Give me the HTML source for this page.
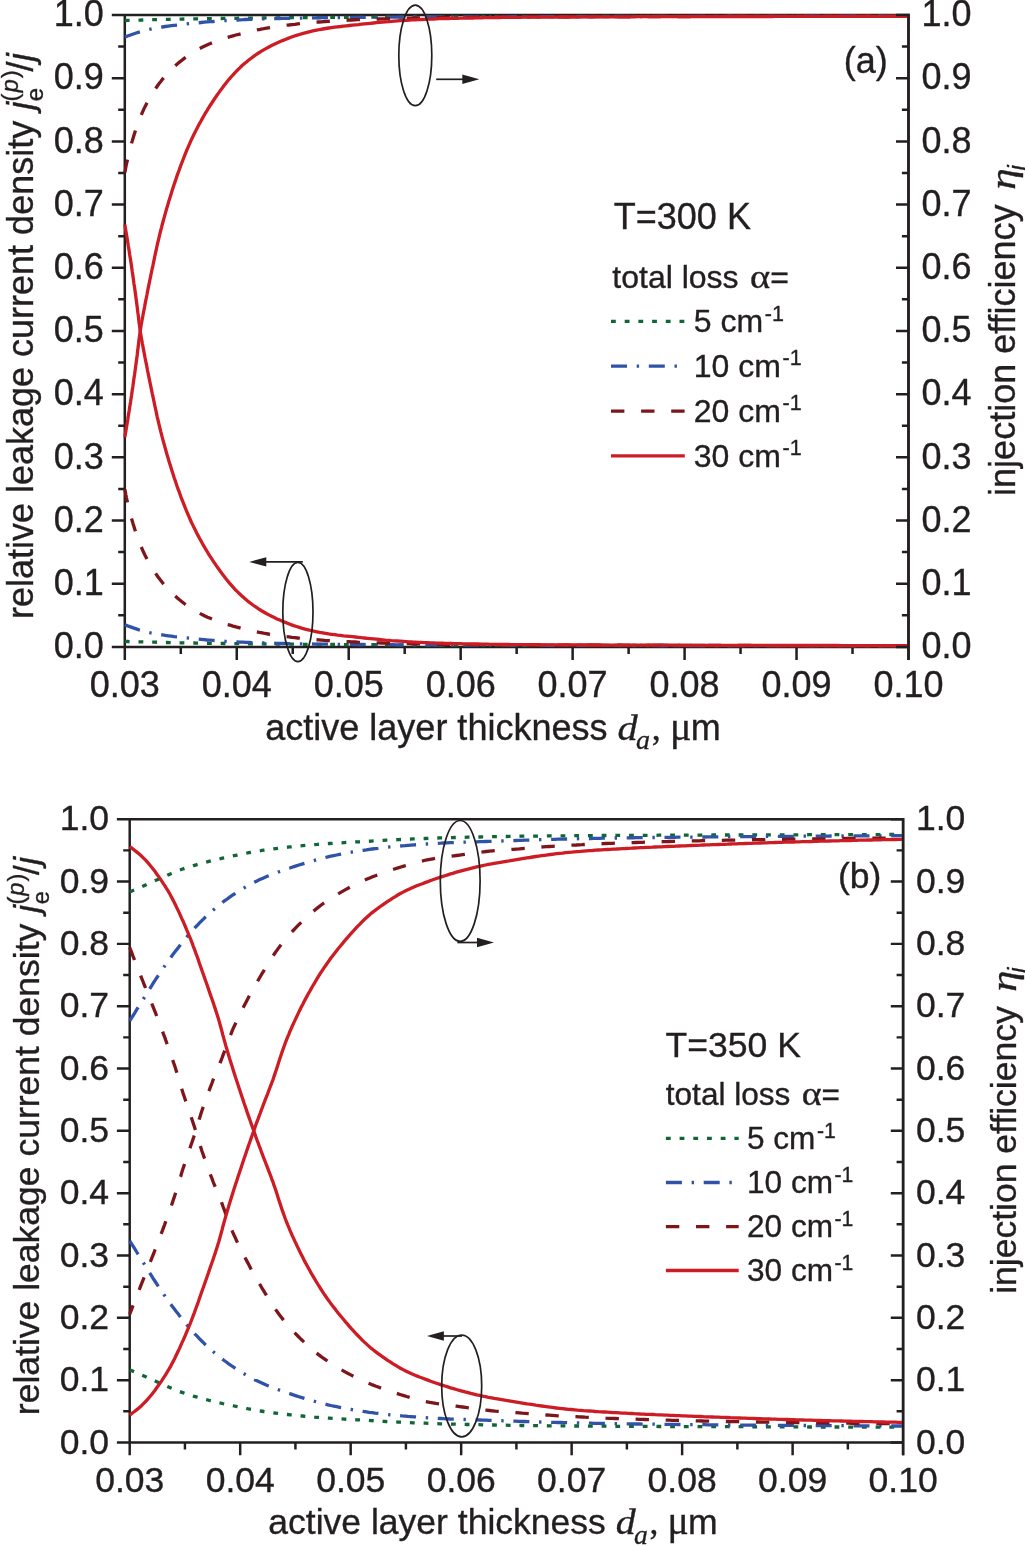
<!DOCTYPE html>
<html><head><meta charset="utf-8"><title>Leakage current and injection efficiency</title>
<style>
html,body{margin:0;padding:0;background:#fff;}
svg{display:block}
text{font-family:"Liberation Sans",sans-serif;fill:#231f20;stroke:#231f20;stroke-width:0.35px;}
.ser{font-family:"Liberation Serif",serif;}
.it{font-style:italic}
</style></head><body>
<svg width="1025" height="1546" viewBox="0 0 1025 1546">
<rect width="1025" height="1546" fill="#fff"/>
<g stroke="#231f20" stroke-width="2.50" fill="none">
<path d="M111.8,15.0 H909.8 M124.8,15.0 V659.9 M111.8,646.9 H908.5 M908.5,15.0 V659.9"/>
<path d="M118.2,615.30 H124.8 M901.9,615.30 H908.5 M111.8,583.71 H124.8 M896.0,583.71 H908.5 M118.2,552.12 H124.8 M901.9,552.12 H908.5 M111.8,520.52 H124.8 M896.0,520.52 H908.5 M118.2,488.92 H124.8 M901.9,488.92 H908.5 M111.8,457.33 H124.8 M896.0,457.33 H908.5 M118.2,425.73 H124.8 M901.9,425.73 H908.5 M111.8,394.14 H124.8 M896.0,394.14 H908.5 M118.2,362.55 H124.8 M901.9,362.55 H908.5 M111.8,330.95 H124.8 M896.0,330.95 H908.5 M118.2,299.36 H124.8 M901.9,299.36 H908.5 M111.8,267.76 H124.8 M896.0,267.76 H908.5 M118.2,236.17 H124.8 M901.9,236.17 H908.5 M111.8,204.57 H124.8 M896.0,204.57 H908.5 M118.2,172.97 H124.8 M901.9,172.97 H908.5 M111.8,141.38 H124.8 M896.0,141.38 H908.5 M118.2,109.78 H124.8 M901.9,109.78 H908.5 M111.8,78.19 H124.8 M896.0,78.19 H908.5 M118.2,46.59 H124.8 M901.9,46.59 H908.5 M180.78,646.9 V653.9 M236.76,646.9 V659.9 M292.74,646.9 V653.9 M348.71,646.9 V659.9 M404.69,646.9 V653.9 M460.67,646.9 V659.9 M516.65,646.9 V653.9 M572.63,646.9 V659.9 M628.61,646.9 V653.9 M684.59,646.9 V659.9 M740.56,646.9 V653.9 M796.54,646.9 V659.9 M852.52,646.9 V653.9 "/>
</g>
<path d="M124.8,641.4 L127.8,641.5 L130.8,641.6 L133.8,641.7 L136.8,641.8 L139.8,641.8 L142.8,641.9 L145.8,642.0 L148.8,642.1 L151.8,642.2 L154.8,642.2 L157.8,642.3 L160.8,642.4 L163.8,642.5 L166.8,642.5 L169.8,642.6 L172.8,642.7 L175.8,642.7 L178.8,642.8 L181.8,642.8 L184.8,642.9 L187.8,642.9 L190.8,643.0 L193.8,643.0 L196.8,643.1 L199.8,643.1 L202.8,643.2 L205.8,643.2 L208.8,643.3 L211.8,643.3 L214.8,643.4 L217.8,643.4 L220.8,643.4 L223.8,643.5 L226.8,643.5 L229.8,643.6 L232.8,643.6 L235.8,643.6 L238.8,643.7 L241.8,643.7 L244.8,643.7 L247.8,643.8 L250.8,643.8 L253.8,643.8 L256.8,643.9 L259.8,643.9 L262.8,643.9 L265.8,644.0 L268.8,644.0 L271.8,644.0 L274.8,644.0 L277.8,644.1 L280.8,644.1 L283.8,644.1 L286.8,644.2 L289.8,644.2 L292.8,644.2 L295.8,644.2 L298.8,644.3 L301.8,644.3 L304.8,644.3 L307.8,644.3 L310.8,644.3 L313.8,644.4 L316.8,644.4 L319.8,644.4 L322.8,644.4 L325.8,644.5 L328.8,644.5 L331.8,644.5 L334.8,644.5 L337.8,644.5 L340.8,644.5 L343.8,644.6 L346.8,644.6 L349.8,644.6 L352.8,644.6 L355.8,644.6 L358.8,644.6 L361.8,644.7 L364.8,644.7 L367.8,644.7 L370.8,644.7 L373.8,644.7 L376.8,644.7 L379.8,644.8 L382.8,644.8 L385.8,644.8 L388.8,644.8 L391.8,644.8 L394.8,644.8 L397.8,644.8 L400.8,644.9 L403.8,644.9 L406.8,644.9 L409.8,644.9 L412.8,644.9 L415.8,644.9 L418.8,644.9 L421.8,644.9 L424.8,645.0 L427.8,645.0 L430.8,645.0 L433.8,645.0 L436.8,645.0 L439.8,645.0 L442.8,645.0 L445.8,645.0 L448.8,645.0 L451.8,645.1 L454.8,645.1 L457.8,645.1 L460.8,645.1 L463.8,645.1 L466.8,645.1 L469.8,645.1 L472.8,645.1 L475.8,645.1 L478.8,645.1 L481.8,645.2 L484.8,645.2 L487.8,645.2 L490.8,645.2 L493.8,645.2 L496.8,645.2 L499.8,645.2 L502.8,645.2 L505.8,645.2 L508.8,645.2 L511.8,645.2 L514.8,645.2 L517.8,645.2 L520.8,645.2 L523.8,645.3 L526.8,645.3 L529.8,645.3 L532.8,645.3 L535.8,645.3 L538.8,645.3 L541.8,645.3 L544.8,645.3 L547.8,645.3 L550.8,645.3 L553.8,645.3 L556.8,645.3 L559.8,645.3 L562.8,645.3 L565.8,645.3 L568.8,645.4 L571.8,645.4 L574.8,645.4 L577.8,645.4 L580.8,645.4 L583.8,645.4 L586.8,645.4 L589.8,645.4 L592.8,645.4 L595.8,645.4 L598.8,645.4 L601.8,645.4 L604.8,645.4 L607.8,645.4 L610.8,645.4 L613.8,645.5 L616.8,645.5 L619.8,645.5 L622.8,645.5 L625.8,645.5 L628.8,645.5 L631.8,645.5 L634.8,645.5 L637.8,645.5 L640.8,645.5 L643.8,645.5 L646.8,645.5 L649.8,645.5 L652.8,645.5 L655.8,645.5 L658.8,645.5 L661.8,645.5 L664.8,645.5 L667.8,645.6 L670.8,645.6 L673.8,645.6 L676.8,645.6 L679.8,645.6 L682.8,645.6 L685.8,645.6 L688.8,645.6 L691.8,645.6 L694.8,645.6 L697.8,645.6 L700.8,645.6 L703.8,645.6 L706.8,645.6 L709.8,645.6 L712.8,645.6 L715.8,645.6 L718.8,645.6 L721.8,645.6 L724.8,645.7 L727.8,645.7 L730.8,645.7 L733.8,645.7 L736.8,645.7 L739.8,645.7 L742.8,645.7 L745.8,645.7 L748.8,645.7 L751.8,645.7 L754.8,645.7 L757.8,645.7 L760.8,645.7 L763.8,645.7 L766.8,645.7 L769.8,645.7 L772.8,645.7 L775.8,645.7 L778.8,645.7 L781.8,645.7 L784.8,645.7 L787.8,645.7 L790.8,645.7 L793.8,645.7 L796.8,645.7 L799.8,645.7 L802.8,645.7 L805.8,645.7 L808.8,645.8 L811.8,645.8 L814.8,645.8 L817.8,645.8 L820.8,645.8 L823.8,645.8 L826.8,645.8 L829.8,645.8 L832.8,645.8 L835.8,645.8 L838.8,645.8 L841.8,645.8 L844.8,645.8 L847.8,645.8 L850.8,645.8 L853.8,645.8 L856.8,645.8 L859.8,645.8 L862.8,645.8 L865.8,645.8 L868.8,645.8 L871.8,645.8 L874.8,645.8 L877.8,645.8 L880.8,645.8 L883.8,645.8 L886.8,645.8 L889.8,645.8 L892.8,645.8 L895.8,645.8 L898.7,645.8 L901.7,645.8 L904.6,645.8 L907.5,645.8 L908.5,645.8" fill="none" stroke="#0f6636" stroke-width="3.3" stroke-dasharray="4.8 8.9"/>
<path d="M124.8,20.5 L127.8,20.4 L130.8,20.3 L133.8,20.2 L136.8,20.1 L139.8,20.1 L142.8,20.0 L145.8,19.9 L148.8,19.8 L151.8,19.7 L154.8,19.7 L157.8,19.6 L160.8,19.5 L163.8,19.4 L166.8,19.4 L169.8,19.3 L172.8,19.2 L175.8,19.2 L178.8,19.1 L181.8,19.1 L184.8,19.0 L187.8,19.0 L190.8,18.9 L193.8,18.9 L196.8,18.8 L199.8,18.8 L202.8,18.7 L205.8,18.7 L208.8,18.6 L211.8,18.6 L214.8,18.5 L217.8,18.5 L220.8,18.5 L223.8,18.4 L226.8,18.4 L229.8,18.3 L232.8,18.3 L235.8,18.3 L238.8,18.2 L241.8,18.2 L244.8,18.2 L247.8,18.1 L250.8,18.1 L253.8,18.1 L256.8,18.0 L259.8,18.0 L262.8,18.0 L265.8,17.9 L268.8,17.9 L271.8,17.9 L274.8,17.9 L277.8,17.8 L280.8,17.8 L283.8,17.8 L286.8,17.7 L289.8,17.7 L292.8,17.7 L295.8,17.7 L298.8,17.6 L301.8,17.6 L304.8,17.6 L307.8,17.6 L310.8,17.6 L313.8,17.5 L316.8,17.5 L319.8,17.5 L322.8,17.5 L325.8,17.4 L328.8,17.4 L331.8,17.4 L334.8,17.4 L337.8,17.4 L340.8,17.4 L343.8,17.3 L346.8,17.3 L349.8,17.3 L352.8,17.3 L355.8,17.3 L358.8,17.3 L361.8,17.2 L364.8,17.2 L367.8,17.2 L370.8,17.2 L373.8,17.2 L376.8,17.2 L379.8,17.1 L382.8,17.1 L385.8,17.1 L388.8,17.1 L391.8,17.1 L394.8,17.1 L397.8,17.1 L400.8,17.0 L403.8,17.0 L406.8,17.0 L409.8,17.0 L412.8,17.0 L415.8,17.0 L418.8,17.0 L421.8,17.0 L424.8,16.9 L427.8,16.9 L430.8,16.9 L433.8,16.9 L436.8,16.9 L439.8,16.9 L442.8,16.9 L445.8,16.9 L448.8,16.9 L451.8,16.8 L454.8,16.8 L457.8,16.8 L460.8,16.8 L463.8,16.8 L466.8,16.8 L469.8,16.8 L472.8,16.8 L475.8,16.8 L478.8,16.8 L481.8,16.7 L484.8,16.7 L487.8,16.7 L490.8,16.7 L493.8,16.7 L496.8,16.7 L499.8,16.7 L502.8,16.7 L505.8,16.7 L508.8,16.7 L511.8,16.7 L514.8,16.7 L517.8,16.7 L520.8,16.7 L523.8,16.6 L526.8,16.6 L529.8,16.6 L532.8,16.6 L535.8,16.6 L538.8,16.6 L541.8,16.6 L544.8,16.6 L547.8,16.6 L550.8,16.6 L553.8,16.6 L556.8,16.6 L559.8,16.6 L562.8,16.6 L565.8,16.6 L568.8,16.5 L571.8,16.5 L574.8,16.5 L577.8,16.5 L580.8,16.5 L583.8,16.5 L586.8,16.5 L589.8,16.5 L592.8,16.5 L595.8,16.5 L598.8,16.5 L601.8,16.5 L604.8,16.5 L607.8,16.5 L610.8,16.5 L613.8,16.4 L616.8,16.4 L619.8,16.4 L622.8,16.4 L625.8,16.4 L628.8,16.4 L631.8,16.4 L634.8,16.4 L637.8,16.4 L640.8,16.4 L643.8,16.4 L646.8,16.4 L649.8,16.4 L652.8,16.4 L655.8,16.4 L658.8,16.4 L661.8,16.4 L664.8,16.4 L667.8,16.3 L670.8,16.3 L673.8,16.3 L676.8,16.3 L679.8,16.3 L682.8,16.3 L685.8,16.3 L688.8,16.3 L691.8,16.3 L694.8,16.3 L697.8,16.3 L700.8,16.3 L703.8,16.3 L706.8,16.3 L709.8,16.3 L712.8,16.3 L715.8,16.3 L718.8,16.3 L721.8,16.3 L724.8,16.2 L727.8,16.2 L730.8,16.2 L733.8,16.2 L736.8,16.2 L739.8,16.2 L742.8,16.2 L745.8,16.2 L748.8,16.2 L751.8,16.2 L754.8,16.2 L757.8,16.2 L760.8,16.2 L763.8,16.2 L766.8,16.2 L769.8,16.2 L772.8,16.2 L775.8,16.2 L778.8,16.2 L781.8,16.2 L784.8,16.2 L787.8,16.2 L790.8,16.2 L793.8,16.2 L796.8,16.2 L799.8,16.2 L802.8,16.2 L805.8,16.2 L808.8,16.1 L811.8,16.1 L814.8,16.1 L817.8,16.1 L820.8,16.1 L823.8,16.1 L826.8,16.1 L829.8,16.1 L832.8,16.1 L835.8,16.1 L838.8,16.1 L841.8,16.1 L844.8,16.1 L847.8,16.1 L850.8,16.1 L853.8,16.1 L856.8,16.1 L859.8,16.1 L862.8,16.1 L865.8,16.1 L868.8,16.1 L871.8,16.1 L874.8,16.1 L877.8,16.1 L880.8,16.1 L883.8,16.1 L886.8,16.1 L889.8,16.1 L892.8,16.1 L895.8,16.1 L898.7,16.1 L901.7,16.1 L904.6,16.1 L907.5,16.1 L908.5,16.1" fill="none" stroke="#0f6636" stroke-width="3.3" stroke-dasharray="4.8 8.9"/>
<path d="M124.8,624.8 L127.6,625.9 L130.5,626.9 L133.3,627.9 L136.2,628.9 L139.0,629.8 L141.9,630.6 L144.8,631.4 L147.7,632.1 L150.6,632.8 L153.5,633.4 L156.4,633.9 L159.4,634.5 L162.3,634.9 L165.3,635.4 L168.3,635.8 L171.3,636.2 L174.2,636.6 L177.2,636.9 L180.2,637.3 L183.2,637.6 L186.2,637.9 L189.2,638.2 L192.2,638.6 L195.1,638.9 L198.1,639.1 L201.1,639.4 L204.1,639.7 L207.1,640.0 L210.1,640.2 L213.1,640.4 L216.1,640.7 L219.1,640.9 L222.1,641.1 L225.0,641.3 L228.0,641.5 L231.0,641.6 L234.0,641.8 L237.0,641.9 L240.0,642.1 L243.0,642.2 L246.0,642.4 L249.0,642.5 L252.0,642.6 L255.0,642.7 L258.0,642.8 L261.0,642.9 L264.0,643.0 L267.0,643.1 L270.0,643.2 L273.0,643.2 L276.0,643.3 L279.0,643.4 L282.0,643.5 L285.0,643.5 L288.0,643.6 L291.0,643.7 L294.0,643.7 L297.0,643.8 L300.0,643.8 L303.0,643.9 L306.0,643.9 L309.0,644.0 L312.0,644.0 L315.0,644.1 L318.0,644.1 L321.0,644.2 L324.0,644.2 L327.0,644.2 L330.0,644.2 L333.0,644.3 L336.0,644.3 L339.0,644.3 L342.0,644.4 L345.0,644.4 L348.0,644.4 L351.0,644.4 L354.0,644.5 L357.0,644.5 L360.0,644.5 L363.0,644.5 L366.0,644.6 L369.0,644.6 L372.0,644.6 L375.0,644.6 L378.0,644.7 L381.0,644.7 L384.0,644.7 L387.0,644.7 L390.0,644.7 L393.0,644.7 L396.0,644.8 L399.0,644.8 L402.0,644.8 L405.0,644.8 L408.0,644.8 L411.0,644.8 L414.0,644.9 L417.0,644.9 L420.0,644.9 L423.0,644.9 L426.0,644.9 L429.0,644.9 L432.0,644.9 L435.0,645.0 L438.0,645.0 L441.0,645.0 L444.0,645.0 L447.0,645.0 L450.0,645.0 L453.0,645.0 L456.0,645.0 L459.0,645.0 L462.0,645.0 L465.0,645.0 L468.0,645.0 L471.0,645.1 L474.0,645.1 L477.0,645.1 L480.0,645.1 L483.0,645.1 L486.0,645.1 L489.0,645.1 L492.0,645.1 L495.0,645.1 L498.0,645.1 L501.0,645.1 L504.0,645.1 L507.0,645.2 L510.0,645.2 L513.0,645.2 L516.0,645.2 L519.0,645.2 L522.0,645.2 L525.0,645.2 L528.0,645.2 L531.0,645.2 L534.0,645.2 L537.0,645.2 L540.0,645.2 L543.0,645.2 L546.0,645.2 L549.0,645.3 L552.0,645.3 L555.0,645.3 L558.0,645.3 L561.0,645.3 L564.0,645.3 L567.0,645.3 L570.0,645.3 L573.0,645.3 L576.0,645.3 L579.0,645.3 L582.0,645.3 L585.0,645.3 L588.0,645.3 L591.0,645.3 L594.0,645.4 L597.0,645.4 L600.0,645.4 L603.0,645.4 L606.0,645.4 L609.0,645.4 L612.0,645.4 L615.0,645.4 L618.0,645.4 L621.0,645.4 L624.0,645.4 L627.0,645.4 L630.0,645.4 L633.0,645.4 L636.0,645.4 L639.0,645.4 L642.0,645.4 L645.0,645.5 L648.0,645.5 L651.0,645.5 L654.0,645.5 L657.0,645.5 L660.0,645.5 L663.0,645.5 L666.0,645.5 L669.0,645.5 L672.0,645.5 L675.0,645.5 L678.0,645.5 L681.0,645.5 L684.0,645.5 L687.0,645.5 L690.0,645.5 L693.0,645.5 L696.0,645.5 L699.0,645.5 L702.0,645.5 L705.0,645.5 L708.0,645.6 L711.0,645.6 L714.0,645.6 L717.0,645.6 L720.0,645.6 L723.0,645.6 L726.0,645.6 L729.0,645.6 L732.0,645.6 L735.0,645.6 L738.0,645.6 L741.0,645.6 L744.0,645.6 L747.0,645.6 L750.0,645.6 L753.0,645.6 L756.0,645.6 L759.0,645.6 L762.0,645.6 L765.0,645.6 L768.0,645.6 L771.0,645.6 L774.0,645.6 L777.0,645.6 L780.0,645.6 L783.0,645.6 L786.0,645.6 L789.0,645.6 L792.0,645.6 L795.0,645.7 L798.0,645.7 L801.0,645.7 L804.0,645.7 L807.0,645.7 L810.0,645.7 L813.0,645.7 L816.0,645.7 L819.0,645.7 L822.0,645.7 L825.0,645.7 L828.0,645.7 L831.0,645.7 L834.0,645.7 L837.0,645.7 L840.0,645.7 L843.0,645.7 L846.0,645.7 L849.0,645.7 L852.0,645.7 L855.0,645.7 L858.0,645.7 L861.0,645.7 L864.0,645.7 L867.0,645.7 L870.0,645.7 L873.0,645.7 L876.0,645.7 L879.0,645.7 L882.0,645.7 L885.0,645.7 L888.0,645.7 L891.0,645.7 L894.0,645.7 L896.9,645.7 L899.9,645.7 L902.8,645.7 L905.7,645.7 L908.5,645.7" fill="none" stroke="#3053a8" stroke-width="3.3" stroke-dasharray="16 9.7 2.4 9.7"/>
<path d="M124.8,37.1 L127.6,36.0 L130.5,35.0 L133.3,34.0 L136.2,33.0 L139.0,32.1 L141.9,31.3 L144.8,30.5 L147.7,29.8 L150.6,29.1 L153.5,28.5 L156.4,28.0 L159.4,27.4 L162.3,27.0 L165.3,26.5 L168.3,26.1 L171.3,25.7 L174.2,25.3 L177.2,25.0 L180.2,24.6 L183.2,24.3 L186.2,24.0 L189.2,23.7 L192.2,23.3 L195.1,23.0 L198.1,22.8 L201.1,22.5 L204.1,22.2 L207.1,21.9 L210.1,21.7 L213.1,21.5 L216.1,21.2 L219.1,21.0 L222.1,20.8 L225.0,20.6 L228.0,20.4 L231.0,20.3 L234.0,20.1 L237.0,20.0 L240.0,19.8 L243.0,19.7 L246.0,19.5 L249.0,19.4 L252.0,19.3 L255.0,19.2 L258.0,19.1 L261.0,19.0 L264.0,18.9 L267.0,18.8 L270.0,18.7 L273.0,18.7 L276.0,18.6 L279.0,18.5 L282.0,18.4 L285.0,18.4 L288.0,18.3 L291.0,18.2 L294.0,18.2 L297.0,18.1 L300.0,18.1 L303.0,18.0 L306.0,18.0 L309.0,17.9 L312.0,17.9 L315.0,17.8 L318.0,17.8 L321.0,17.7 L324.0,17.7 L327.0,17.7 L330.0,17.7 L333.0,17.6 L336.0,17.6 L339.0,17.6 L342.0,17.5 L345.0,17.5 L348.0,17.5 L351.0,17.5 L354.0,17.4 L357.0,17.4 L360.0,17.4 L363.0,17.4 L366.0,17.3 L369.0,17.3 L372.0,17.3 L375.0,17.3 L378.0,17.2 L381.0,17.2 L384.0,17.2 L387.0,17.2 L390.0,17.2 L393.0,17.2 L396.0,17.1 L399.0,17.1 L402.0,17.1 L405.0,17.1 L408.0,17.1 L411.0,17.1 L414.0,17.0 L417.0,17.0 L420.0,17.0 L423.0,17.0 L426.0,17.0 L429.0,17.0 L432.0,17.0 L435.0,16.9 L438.0,16.9 L441.0,16.9 L444.0,16.9 L447.0,16.9 L450.0,16.9 L453.0,16.9 L456.0,16.9 L459.0,16.9 L462.0,16.9 L465.0,16.9 L468.0,16.9 L471.0,16.8 L474.0,16.8 L477.0,16.8 L480.0,16.8 L483.0,16.8 L486.0,16.8 L489.0,16.8 L492.0,16.8 L495.0,16.8 L498.0,16.8 L501.0,16.8 L504.0,16.8 L507.0,16.7 L510.0,16.7 L513.0,16.7 L516.0,16.7 L519.0,16.7 L522.0,16.7 L525.0,16.7 L528.0,16.7 L531.0,16.7 L534.0,16.7 L537.0,16.7 L540.0,16.7 L543.0,16.7 L546.0,16.7 L549.0,16.6 L552.0,16.6 L555.0,16.6 L558.0,16.6 L561.0,16.6 L564.0,16.6 L567.0,16.6 L570.0,16.6 L573.0,16.6 L576.0,16.6 L579.0,16.6 L582.0,16.6 L585.0,16.6 L588.0,16.6 L591.0,16.6 L594.0,16.5 L597.0,16.5 L600.0,16.5 L603.0,16.5 L606.0,16.5 L609.0,16.5 L612.0,16.5 L615.0,16.5 L618.0,16.5 L621.0,16.5 L624.0,16.5 L627.0,16.5 L630.0,16.5 L633.0,16.5 L636.0,16.5 L639.0,16.5 L642.0,16.5 L645.0,16.4 L648.0,16.4 L651.0,16.4 L654.0,16.4 L657.0,16.4 L660.0,16.4 L663.0,16.4 L666.0,16.4 L669.0,16.4 L672.0,16.4 L675.0,16.4 L678.0,16.4 L681.0,16.4 L684.0,16.4 L687.0,16.4 L690.0,16.4 L693.0,16.4 L696.0,16.4 L699.0,16.4 L702.0,16.4 L705.0,16.4 L708.0,16.3 L711.0,16.3 L714.0,16.3 L717.0,16.3 L720.0,16.3 L723.0,16.3 L726.0,16.3 L729.0,16.3 L732.0,16.3 L735.0,16.3 L738.0,16.3 L741.0,16.3 L744.0,16.3 L747.0,16.3 L750.0,16.3 L753.0,16.3 L756.0,16.3 L759.0,16.3 L762.0,16.3 L765.0,16.3 L768.0,16.3 L771.0,16.3 L774.0,16.3 L777.0,16.3 L780.0,16.3 L783.0,16.3 L786.0,16.3 L789.0,16.3 L792.0,16.3 L795.0,16.2 L798.0,16.2 L801.0,16.2 L804.0,16.2 L807.0,16.2 L810.0,16.2 L813.0,16.2 L816.0,16.2 L819.0,16.2 L822.0,16.2 L825.0,16.2 L828.0,16.2 L831.0,16.2 L834.0,16.2 L837.0,16.2 L840.0,16.2 L843.0,16.2 L846.0,16.2 L849.0,16.2 L852.0,16.2 L855.0,16.2 L858.0,16.2 L861.0,16.2 L864.0,16.2 L867.0,16.2 L870.0,16.2 L873.0,16.2 L876.0,16.2 L879.0,16.2 L882.0,16.2 L885.0,16.2 L888.0,16.2 L891.0,16.2 L894.0,16.2 L896.9,16.2 L899.9,16.2 L902.8,16.2 L905.7,16.2 L908.5,16.2" fill="none" stroke="#3053a8" stroke-width="3.3" stroke-dasharray="16 9.7 2.4 9.7"/>
<path d="M124.8,489.2 L125.4,492.2 L125.9,495.1 L126.5,498.1 L127.2,501.0 L127.8,504.0 L128.5,506.9 L129.2,509.8 L130.0,512.7 L130.8,515.6 L131.5,518.5 L132.4,521.4 L133.2,524.2 L134.1,527.1 L135.0,529.9 L135.9,532.8 L136.9,535.6 L137.9,538.5 L139.0,541.3 L140.1,544.1 L141.2,546.8 L142.4,549.6 L143.6,552.3 L144.9,555.0 L146.3,557.7 L147.7,560.4 L149.1,563.0 L150.6,565.6 L152.2,568.2 L153.8,570.7 L155.5,573.2 L157.2,575.7 L158.9,578.1 L160.8,580.4 L162.6,582.8 L164.6,585.1 L166.6,587.4 L168.6,589.6 L170.7,591.7 L172.9,593.9 L175.0,595.9 L177.3,597.9 L179.5,599.8 L181.9,601.7 L184.2,603.5 L186.7,605.3 L189.1,607.0 L191.7,608.6 L194.2,610.2 L196.8,611.7 L199.5,613.2 L202.1,614.6 L204.8,615.9 L207.5,617.2 L210.3,618.3 L213.0,619.5 L215.8,620.5 L218.6,621.6 L221.5,622.5 L224.3,623.5 L227.2,624.4 L230.1,625.2 L233.0,626.1 L235.9,626.9 L238.8,627.6 L241.7,628.4 L244.6,629.1 L247.5,629.8 L250.5,630.5 L253.4,631.1 L256.3,631.8 L259.3,632.4 L262.2,632.9 L265.2,633.5 L268.1,634.0 L271.1,634.5 L274.0,634.9 L277.0,635.4 L280.0,635.8 L282.9,636.2 L285.9,636.6 L288.9,636.9 L291.9,637.3 L294.9,637.6 L297.8,638.0 L300.8,638.3 L303.8,638.6 L306.8,638.9 L309.8,639.2 L312.8,639.4 L315.8,639.7 L318.8,639.9 L321.7,640.1 L324.7,640.4 L327.7,640.6 L330.7,640.7 L333.7,640.9 L336.7,641.1 L339.7,641.3 L342.7,641.4 L345.7,641.6 L348.7,641.7 L351.7,641.9 L354.7,642.0 L357.7,642.2 L360.7,642.3 L363.7,642.4 L366.7,642.5 L369.7,642.6 L372.7,642.8 L375.7,642.9 L378.7,642.9 L381.7,643.0 L384.7,643.1 L387.7,643.2 L390.7,643.3 L393.7,643.4 L396.7,643.4 L399.7,643.5 L402.7,643.6 L405.7,643.7 L408.7,643.7 L411.7,643.8 L414.7,643.9 L417.7,643.9 L420.7,644.0 L423.7,644.0 L426.7,644.1 L429.7,644.1 L432.7,644.2 L435.7,644.2 L438.7,644.3 L441.7,644.3 L444.7,644.3 L447.7,644.4 L450.7,644.4 L453.7,644.4 L456.7,644.5 L459.7,644.5 L462.7,644.5 L465.7,644.5 L468.7,644.6 L471.7,644.6 L474.7,644.6 L477.7,644.6 L480.7,644.6 L483.7,644.7 L486.7,644.7 L489.7,644.7 L492.7,644.7 L495.7,644.8 L498.7,644.8 L501.7,644.8 L504.7,644.8 L507.7,644.8 L510.7,644.8 L513.7,644.9 L516.7,644.9 L519.7,644.9 L522.7,644.9 L525.7,644.9 L528.7,644.9 L531.7,645.0 L534.7,645.0 L537.7,645.0 L540.7,645.0 L543.7,645.0 L546.7,645.0 L549.7,645.0 L552.7,645.0 L555.7,645.1 L558.7,645.1 L561.7,645.1 L564.7,645.1 L567.7,645.1 L570.7,645.1 L573.7,645.1 L576.7,645.1 L579.7,645.1 L582.7,645.1 L585.7,645.2 L588.7,645.2 L591.7,645.2 L594.7,645.2 L597.7,645.2 L600.7,645.2 L603.7,645.2 L606.7,645.2 L609.7,645.2 L612.7,645.2 L615.7,645.2 L618.7,645.2 L621.7,645.3 L624.7,645.3 L627.7,645.3 L630.7,645.3 L633.7,645.3 L636.7,645.3 L639.7,645.3 L642.7,645.3 L645.7,645.3 L648.7,645.3 L651.7,645.3 L654.7,645.3 L657.7,645.3 L660.7,645.4 L663.7,645.4 L666.7,645.4 L669.7,645.4 L672.7,645.4 L675.7,645.4 L678.7,645.4 L681.7,645.4 L684.7,645.4 L687.7,645.4 L690.7,645.4 L693.7,645.4 L696.7,645.4 L699.7,645.4 L702.7,645.5 L705.7,645.5 L708.7,645.5 L711.7,645.5 L714.7,645.5 L717.7,645.5 L720.7,645.5 L723.7,645.5 L726.7,645.5 L729.7,645.5 L732.7,645.5 L735.7,645.5 L738.7,645.5 L741.7,645.5 L744.7,645.5 L747.7,645.5 L750.7,645.5 L753.7,645.6 L756.7,645.6 L759.7,645.6 L762.7,645.6 L765.7,645.6 L768.7,645.6 L771.7,645.6 L774.7,645.6 L777.7,645.6 L780.7,645.6 L783.7,645.6 L786.7,645.6 L789.7,645.6 L792.7,645.6 L795.7,645.6 L798.7,645.6 L801.7,645.6 L804.7,645.6 L807.7,645.6 L810.7,645.6 L813.7,645.6 L816.7,645.6 L819.7,645.6 L822.7,645.7 L825.7,645.7 L828.7,645.7 L831.7,645.7 L834.7,645.7 L837.7,645.7 L840.7,645.7 L843.7,645.7 L846.7,645.7 L849.7,645.7 L852.7,645.7 L855.7,645.7 L858.7,645.7 L861.7,645.7 L864.7,645.7 L867.7,645.7 L870.7,645.7 L873.7,645.7 L876.7,645.7 L879.7,645.7 L882.7,645.7 L885.7,645.7 L888.7,645.7 L891.7,645.7 L894.7,645.7 L897.6,645.7 L900.6,645.7 L903.6,645.7 L906.5,645.7 L908.5,645.7" fill="none" stroke="#7e151b" stroke-width="3.3" stroke-dasharray="13.4 16.7"/>
<path d="M124.8,172.7 L125.4,169.7 L125.9,166.8 L126.5,163.8 L127.2,160.9 L127.8,157.9 L128.5,155.0 L129.2,152.1 L130.0,149.2 L130.8,146.3 L131.5,143.4 L132.4,140.5 L133.2,137.7 L134.1,134.8 L135.0,132.0 L135.9,129.1 L136.9,126.3 L137.9,123.4 L139.0,120.6 L140.1,117.8 L141.2,115.1 L142.4,112.3 L143.6,109.6 L144.9,106.9 L146.3,104.2 L147.7,101.5 L149.1,98.9 L150.6,96.3 L152.2,93.7 L153.8,91.2 L155.5,88.7 L157.2,86.2 L158.9,83.8 L160.8,81.5 L162.6,79.1 L164.6,76.8 L166.6,74.5 L168.6,72.3 L170.7,70.2 L172.9,68.0 L175.0,66.0 L177.3,64.0 L179.5,62.1 L181.9,60.2 L184.2,58.4 L186.7,56.6 L189.1,54.9 L191.7,53.3 L194.2,51.7 L196.8,50.2 L199.5,48.7 L202.1,47.3 L204.8,46.0 L207.5,44.7 L210.3,43.6 L213.0,42.4 L215.8,41.4 L218.6,40.3 L221.5,39.4 L224.3,38.4 L227.2,37.5 L230.1,36.7 L233.0,35.8 L235.9,35.0 L238.8,34.3 L241.7,33.5 L244.6,32.8 L247.5,32.1 L250.5,31.4 L253.4,30.8 L256.3,30.1 L259.3,29.5 L262.2,29.0 L265.2,28.4 L268.1,27.9 L271.1,27.4 L274.0,27.0 L277.0,26.5 L280.0,26.1 L282.9,25.7 L285.9,25.3 L288.9,25.0 L291.9,24.6 L294.9,24.3 L297.8,23.9 L300.8,23.6 L303.8,23.3 L306.8,23.0 L309.8,22.7 L312.8,22.5 L315.8,22.2 L318.8,22.0 L321.7,21.8 L324.7,21.5 L327.7,21.3 L330.7,21.2 L333.7,21.0 L336.7,20.8 L339.7,20.6 L342.7,20.5 L345.7,20.3 L348.7,20.2 L351.7,20.0 L354.7,19.9 L357.7,19.7 L360.7,19.6 L363.7,19.5 L366.7,19.4 L369.7,19.3 L372.7,19.1 L375.7,19.0 L378.7,19.0 L381.7,18.9 L384.7,18.8 L387.7,18.7 L390.7,18.6 L393.7,18.5 L396.7,18.5 L399.7,18.4 L402.7,18.3 L405.7,18.2 L408.7,18.2 L411.7,18.1 L414.7,18.0 L417.7,18.0 L420.7,17.9 L423.7,17.9 L426.7,17.8 L429.7,17.8 L432.7,17.7 L435.7,17.7 L438.7,17.6 L441.7,17.6 L444.7,17.6 L447.7,17.5 L450.7,17.5 L453.7,17.5 L456.7,17.4 L459.7,17.4 L462.7,17.4 L465.7,17.4 L468.7,17.3 L471.7,17.3 L474.7,17.3 L477.7,17.3 L480.7,17.3 L483.7,17.2 L486.7,17.2 L489.7,17.2 L492.7,17.2 L495.7,17.1 L498.7,17.1 L501.7,17.1 L504.7,17.1 L507.7,17.1 L510.7,17.1 L513.7,17.0 L516.7,17.0 L519.7,17.0 L522.7,17.0 L525.7,17.0 L528.7,17.0 L531.7,16.9 L534.7,16.9 L537.7,16.9 L540.7,16.9 L543.7,16.9 L546.7,16.9 L549.7,16.9 L552.7,16.9 L555.7,16.8 L558.7,16.8 L561.7,16.8 L564.7,16.8 L567.7,16.8 L570.7,16.8 L573.7,16.8 L576.7,16.8 L579.7,16.8 L582.7,16.8 L585.7,16.7 L588.7,16.7 L591.7,16.7 L594.7,16.7 L597.7,16.7 L600.7,16.7 L603.7,16.7 L606.7,16.7 L609.7,16.7 L612.7,16.7 L615.7,16.7 L618.7,16.7 L621.7,16.6 L624.7,16.6 L627.7,16.6 L630.7,16.6 L633.7,16.6 L636.7,16.6 L639.7,16.6 L642.7,16.6 L645.7,16.6 L648.7,16.6 L651.7,16.6 L654.7,16.6 L657.7,16.6 L660.7,16.5 L663.7,16.5 L666.7,16.5 L669.7,16.5 L672.7,16.5 L675.7,16.5 L678.7,16.5 L681.7,16.5 L684.7,16.5 L687.7,16.5 L690.7,16.5 L693.7,16.5 L696.7,16.5 L699.7,16.5 L702.7,16.4 L705.7,16.4 L708.7,16.4 L711.7,16.4 L714.7,16.4 L717.7,16.4 L720.7,16.4 L723.7,16.4 L726.7,16.4 L729.7,16.4 L732.7,16.4 L735.7,16.4 L738.7,16.4 L741.7,16.4 L744.7,16.4 L747.7,16.4 L750.7,16.4 L753.7,16.3 L756.7,16.3 L759.7,16.3 L762.7,16.3 L765.7,16.3 L768.7,16.3 L771.7,16.3 L774.7,16.3 L777.7,16.3 L780.7,16.3 L783.7,16.3 L786.7,16.3 L789.7,16.3 L792.7,16.3 L795.7,16.3 L798.7,16.3 L801.7,16.3 L804.7,16.3 L807.7,16.3 L810.7,16.3 L813.7,16.3 L816.7,16.3 L819.7,16.3 L822.7,16.2 L825.7,16.2 L828.7,16.2 L831.7,16.2 L834.7,16.2 L837.7,16.2 L840.7,16.2 L843.7,16.2 L846.7,16.2 L849.7,16.2 L852.7,16.2 L855.7,16.2 L858.7,16.2 L861.7,16.2 L864.7,16.2 L867.7,16.2 L870.7,16.2 L873.7,16.2 L876.7,16.2 L879.7,16.2 L882.7,16.2 L885.7,16.2 L888.7,16.2 L891.7,16.2 L894.7,16.2 L897.6,16.2 L900.6,16.2 L903.6,16.2 L906.5,16.2 L908.5,16.2" fill="none" stroke="#7e151b" stroke-width="3.3" stroke-dasharray="13.4 16.7"/>
<path d="M124.8,224.6 L125.3,227.6 L125.8,230.5 L126.3,233.5 L126.8,236.4 L127.3,239.4 L127.8,242.4 L128.2,245.3 L128.7,248.3 L129.2,251.3 L129.6,254.2 L130.1,257.2 L130.6,260.1 L131.0,263.1 L131.5,266.1 L131.9,269.0 L132.3,272.0 L132.8,275.0 L133.2,278.0 L133.6,280.9 L134.0,283.9 L134.5,286.9 L134.9,289.8 L135.3,292.8 L135.7,295.8 L136.1,298.7 L136.5,301.7 L136.9,304.7 L137.3,307.7 L137.6,310.6 L138.0,313.6 L138.4,316.6 L138.7,319.6 L139.1,322.6 L139.5,325.5 L139.9,328.5 L140.3,331.5 L140.8,334.4 L141.2,337.4 L141.8,340.3 L142.3,343.3 L142.9,346.3 L143.4,349.2 L144.0,352.1 L144.6,355.1 L145.1,358.0 L145.7,361.0 L146.3,363.9 L146.9,366.9 L147.4,369.8 L148.0,372.8 L148.6,375.7 L149.2,378.6 L149.8,381.6 L150.4,384.5 L151.0,387.4 L151.6,390.4 L152.2,393.3 L152.9,396.3 L153.5,399.2 L154.1,402.1 L154.7,405.1 L155.3,408.0 L156.0,410.9 L156.6,413.9 L157.2,416.8 L157.9,419.7 L158.6,422.6 L159.3,425.6 L160.0,428.5 L160.7,431.4 L161.5,434.3 L162.2,437.2 L163.0,440.1 L163.8,443.0 L164.6,445.9 L165.4,448.8 L166.2,451.7 L167.0,454.5 L167.9,457.4 L168.7,460.3 L169.6,463.2 L170.5,466.0 L171.4,468.9 L172.3,471.8 L173.2,474.6 L174.1,477.5 L175.1,480.3 L176.1,483.2 L177.0,486.0 L178.0,488.8 L179.1,491.6 L180.1,494.5 L181.1,497.3 L182.2,500.1 L183.3,502.9 L184.4,505.7 L185.5,508.5 L186.6,511.2 L187.8,514.0 L189.0,516.7 L190.2,519.5 L191.4,522.2 L192.7,524.9 L194.0,527.6 L195.4,530.3 L196.7,533.0 L198.1,535.6 L199.5,538.3 L201.0,540.9 L202.4,543.5 L203.9,546.1 L205.4,548.7 L207.0,551.3 L208.5,553.9 L210.1,556.4 L211.8,558.9 L213.4,561.4 L215.1,563.9 L216.8,566.4 L218.5,568.8 L220.3,571.3 L222.1,573.7 L223.9,576.1 L225.7,578.4 L227.6,580.8 L229.5,583.1 L231.5,585.4 L233.5,587.6 L235.5,589.8 L237.6,591.9 L239.8,594.0 L241.9,596.1 L244.2,598.1 L246.5,600.0 L248.8,601.9 L251.2,603.7 L253.6,605.5 L256.1,607.2 L258.6,608.9 L261.1,610.5 L263.7,612.0 L266.3,613.5 L268.9,614.9 L271.6,616.3 L274.3,617.6 L277.0,618.9 L279.7,620.1 L282.5,621.3 L285.3,622.4 L288.1,623.5 L290.9,624.6 L293.7,625.6 L296.5,626.5 L299.4,627.4 L302.3,628.3 L305.2,629.1 L308.1,629.8 L311.0,630.5 L313.9,631.2 L316.8,631.8 L319.8,632.4 L322.7,632.9 L325.7,633.4 L328.7,633.9 L331.6,634.3 L334.6,634.7 L337.6,635.1 L340.6,635.4 L343.5,635.8 L346.5,636.1 L349.5,636.4 L352.5,636.7 L355.5,637.0 L358.5,637.3 L361.4,637.7 L364.4,638.0 L367.4,638.3 L370.4,638.6 L373.4,638.9 L376.4,639.2 L379.4,639.5 L382.3,639.8 L385.3,640.1 L388.3,640.3 L391.3,640.6 L394.3,640.8 L397.3,641.0 L400.3,641.2 L403.3,641.4 L406.3,641.6 L409.3,641.8 L412.3,642.0 L415.3,642.1 L418.3,642.3 L421.2,642.4 L424.2,642.6 L427.2,642.7 L430.2,642.8 L433.2,642.9 L436.2,643.1 L439.2,643.2 L442.2,643.2 L445.2,643.3 L448.2,643.4 L451.2,643.5 L454.2,643.6 L457.2,643.6 L460.2,643.7 L463.2,643.8 L466.2,643.8 L469.2,643.9 L472.2,643.9 L475.2,644.0 L478.2,644.0 L481.2,644.1 L484.2,644.2 L487.2,644.2 L490.2,644.3 L493.2,644.3 L496.2,644.4 L499.2,644.4 L502.2,644.5 L505.2,644.5 L508.2,644.5 L511.2,644.6 L514.2,644.6 L517.2,644.6 L520.2,644.6 L523.2,644.7 L526.2,644.7 L529.2,644.7 L532.2,644.7 L535.2,644.7 L538.2,644.7 L541.2,644.8 L544.2,644.8 L547.2,644.8 L550.2,644.8 L553.2,644.8 L556.2,644.8 L559.2,644.9 L562.2,644.9 L565.2,644.9 L568.2,644.9 L571.2,644.9 L574.2,644.9 L577.2,644.9 L580.2,645.0 L583.2,645.0 L586.2,645.0 L589.2,645.0 L592.2,645.0 L595.2,645.0 L598.2,645.0 L601.2,645.0 L604.2,645.1 L607.2,645.1 L610.2,645.1 L613.2,645.1 L616.2,645.1 L619.2,645.1 L622.2,645.1 L625.2,645.1 L628.2,645.1 L631.2,645.1 L634.2,645.1 L637.2,645.2 L640.2,645.2 L643.2,645.2 L646.2,645.2 L649.2,645.2 L652.2,645.2 L655.2,645.2 L658.2,645.2 L661.2,645.2 L664.2,645.2 L667.2,645.2 L670.2,645.2 L673.2,645.2 L676.2,645.2 L679.2,645.3 L682.2,645.3 L685.2,645.3 L688.2,645.3 L691.2,645.3 L694.2,645.3 L697.2,645.3 L700.2,645.3 L703.2,645.3 L706.2,645.3 L709.2,645.3 L712.2,645.3 L715.2,645.3 L718.2,645.3 L721.2,645.3 L724.2,645.4 L727.2,645.4 L730.2,645.4 L733.2,645.4 L736.2,645.4 L739.2,645.4 L742.2,645.4 L745.2,645.4 L748.2,645.4 L751.2,645.4 L754.2,645.4 L757.2,645.4 L760.2,645.4 L763.2,645.4 L766.2,645.4 L769.2,645.4 L772.2,645.4 L775.2,645.5 L778.2,645.5 L781.2,645.5 L784.2,645.5 L787.2,645.5 L790.2,645.5 L793.2,645.5 L796.2,645.5 L799.2,645.5 L802.2,645.5 L805.2,645.5 L808.2,645.5 L811.2,645.5 L814.2,645.5 L817.2,645.5 L820.2,645.5 L823.2,645.5 L826.2,645.5 L829.2,645.5 L832.2,645.5 L835.2,645.5 L838.2,645.5 L841.2,645.6 L844.2,645.6 L847.2,645.6 L850.2,645.6 L853.2,645.6 L856.2,645.6 L859.2,645.6 L862.2,645.6 L865.2,645.6 L868.2,645.6 L871.2,645.6 L874.2,645.6 L877.2,645.6 L880.2,645.6 L883.2,645.6 L886.2,645.6 L889.2,645.6 L892.2,645.6 L895.2,645.6 L898.1,645.6 L901.0,645.6 L903.9,645.6 L906.7,645.6 L908.5,645.6" fill="none" stroke="#cd1c24" stroke-width="3.3"/>
<path d="M124.8,437.3 L125.3,434.3 L125.8,431.4 L126.3,428.4 L126.8,425.5 L127.3,422.5 L127.8,419.5 L128.2,416.6 L128.7,413.6 L129.2,410.6 L129.6,407.7 L130.1,404.7 L130.6,401.8 L131.0,398.8 L131.5,395.8 L131.9,392.9 L132.3,389.9 L132.8,386.9 L133.2,383.9 L133.6,381.0 L134.0,378.0 L134.5,375.0 L134.9,372.1 L135.3,369.1 L135.7,366.1 L136.1,363.2 L136.5,360.2 L136.9,357.2 L137.3,354.2 L137.6,351.3 L138.0,348.3 L138.4,345.3 L138.7,342.3 L139.1,339.3 L139.5,336.4 L139.9,333.4 L140.3,330.4 L140.8,327.5 L141.2,324.5 L141.8,321.6 L142.3,318.6 L142.9,315.6 L143.4,312.7 L144.0,309.8 L144.6,306.8 L145.1,303.9 L145.7,300.9 L146.3,298.0 L146.9,295.0 L147.4,292.1 L148.0,289.1 L148.6,286.2 L149.2,283.3 L149.8,280.3 L150.4,277.4 L151.0,274.5 L151.6,271.5 L152.2,268.6 L152.9,265.6 L153.5,262.7 L154.1,259.8 L154.7,256.8 L155.3,253.9 L156.0,251.0 L156.6,248.0 L157.2,245.1 L157.9,242.2 L158.6,239.3 L159.3,236.3 L160.0,233.4 L160.7,230.5 L161.5,227.6 L162.2,224.7 L163.0,221.8 L163.8,218.9 L164.6,216.0 L165.4,213.1 L166.2,210.2 L167.0,207.4 L167.9,204.5 L168.7,201.6 L169.6,198.7 L170.5,195.9 L171.4,193.0 L172.3,190.1 L173.2,187.3 L174.1,184.4 L175.1,181.6 L176.1,178.7 L177.0,175.9 L178.0,173.1 L179.1,170.3 L180.1,167.4 L181.1,164.6 L182.2,161.8 L183.3,159.0 L184.4,156.2 L185.5,153.4 L186.6,150.7 L187.8,147.9 L189.0,145.2 L190.2,142.4 L191.4,139.7 L192.7,137.0 L194.0,134.3 L195.4,131.6 L196.7,128.9 L198.1,126.3 L199.5,123.6 L201.0,121.0 L202.4,118.4 L203.9,115.8 L205.4,113.2 L207.0,110.6 L208.5,108.0 L210.1,105.5 L211.8,103.0 L213.4,100.5 L215.1,98.0 L216.8,95.5 L218.5,93.1 L220.3,90.6 L222.1,88.2 L223.9,85.8 L225.7,83.5 L227.6,81.1 L229.5,78.8 L231.5,76.5 L233.5,74.3 L235.5,72.1 L237.6,70.0 L239.8,67.9 L241.9,65.8 L244.2,63.8 L246.5,61.9 L248.8,60.0 L251.2,58.2 L253.6,56.4 L256.1,54.7 L258.6,53.0 L261.1,51.4 L263.7,49.9 L266.3,48.4 L268.9,47.0 L271.6,45.6 L274.3,44.3 L277.0,43.0 L279.7,41.8 L282.5,40.6 L285.3,39.5 L288.1,38.4 L290.9,37.3 L293.7,36.3 L296.5,35.4 L299.4,34.5 L302.3,33.6 L305.2,32.8 L308.1,32.1 L311.0,31.4 L313.9,30.7 L316.8,30.1 L319.8,29.5 L322.7,29.0 L325.7,28.5 L328.7,28.0 L331.6,27.6 L334.6,27.2 L337.6,26.8 L340.6,26.5 L343.5,26.1 L346.5,25.8 L349.5,25.5 L352.5,25.2 L355.5,24.9 L358.5,24.6 L361.4,24.2 L364.4,23.9 L367.4,23.6 L370.4,23.3 L373.4,23.0 L376.4,22.7 L379.4,22.4 L382.3,22.1 L385.3,21.8 L388.3,21.6 L391.3,21.3 L394.3,21.1 L397.3,20.9 L400.3,20.7 L403.3,20.5 L406.3,20.3 L409.3,20.1 L412.3,19.9 L415.3,19.8 L418.3,19.6 L421.2,19.5 L424.2,19.3 L427.2,19.2 L430.2,19.1 L433.2,19.0 L436.2,18.8 L439.2,18.7 L442.2,18.7 L445.2,18.6 L448.2,18.5 L451.2,18.4 L454.2,18.3 L457.2,18.3 L460.2,18.2 L463.2,18.1 L466.2,18.1 L469.2,18.0 L472.2,18.0 L475.2,17.9 L478.2,17.9 L481.2,17.8 L484.2,17.7 L487.2,17.7 L490.2,17.6 L493.2,17.6 L496.2,17.5 L499.2,17.5 L502.2,17.4 L505.2,17.4 L508.2,17.4 L511.2,17.3 L514.2,17.3 L517.2,17.3 L520.2,17.3 L523.2,17.2 L526.2,17.2 L529.2,17.2 L532.2,17.2 L535.2,17.2 L538.2,17.2 L541.2,17.1 L544.2,17.1 L547.2,17.1 L550.2,17.1 L553.2,17.1 L556.2,17.1 L559.2,17.0 L562.2,17.0 L565.2,17.0 L568.2,17.0 L571.2,17.0 L574.2,17.0 L577.2,17.0 L580.2,16.9 L583.2,16.9 L586.2,16.9 L589.2,16.9 L592.2,16.9 L595.2,16.9 L598.2,16.9 L601.2,16.9 L604.2,16.8 L607.2,16.8 L610.2,16.8 L613.2,16.8 L616.2,16.8 L619.2,16.8 L622.2,16.8 L625.2,16.8 L628.2,16.8 L631.2,16.8 L634.2,16.8 L637.2,16.7 L640.2,16.7 L643.2,16.7 L646.2,16.7 L649.2,16.7 L652.2,16.7 L655.2,16.7 L658.2,16.7 L661.2,16.7 L664.2,16.7 L667.2,16.7 L670.2,16.7 L673.2,16.7 L676.2,16.7 L679.2,16.6 L682.2,16.6 L685.2,16.6 L688.2,16.6 L691.2,16.6 L694.2,16.6 L697.2,16.6 L700.2,16.6 L703.2,16.6 L706.2,16.6 L709.2,16.6 L712.2,16.6 L715.2,16.6 L718.2,16.6 L721.2,16.6 L724.2,16.5 L727.2,16.5 L730.2,16.5 L733.2,16.5 L736.2,16.5 L739.2,16.5 L742.2,16.5 L745.2,16.5 L748.2,16.5 L751.2,16.5 L754.2,16.5 L757.2,16.5 L760.2,16.5 L763.2,16.5 L766.2,16.5 L769.2,16.5 L772.2,16.5 L775.2,16.4 L778.2,16.4 L781.2,16.4 L784.2,16.4 L787.2,16.4 L790.2,16.4 L793.2,16.4 L796.2,16.4 L799.2,16.4 L802.2,16.4 L805.2,16.4 L808.2,16.4 L811.2,16.4 L814.2,16.4 L817.2,16.4 L820.2,16.4 L823.2,16.4 L826.2,16.4 L829.2,16.4 L832.2,16.4 L835.2,16.4 L838.2,16.4 L841.2,16.3 L844.2,16.3 L847.2,16.3 L850.2,16.3 L853.2,16.3 L856.2,16.3 L859.2,16.3 L862.2,16.3 L865.2,16.3 L868.2,16.3 L871.2,16.3 L874.2,16.3 L877.2,16.3 L880.2,16.3 L883.2,16.3 L886.2,16.3 L889.2,16.3 L892.2,16.3 L895.2,16.3 L898.1,16.3 L901.0,16.3 L903.9,16.3 L906.7,16.3 L908.5,16.3" fill="none" stroke="#cd1c24" stroke-width="3.3"/>
<path d="M896.0,15.0 H908.5 M896.0,646.9 H908.5 M908.5,13.75 V659.9" stroke="#231f20" stroke-width="2.50" fill="none"/>
<g font-size="36.00">
<text x="103.8" y="658.1" text-anchor="end">0.0</text>
<text x="921.5" y="658.1">0.0</text>
<text x="103.8" y="594.9" text-anchor="end">0.1</text>
<text x="921.5" y="594.9">0.1</text>
<text x="103.8" y="531.7" text-anchor="end">0.2</text>
<text x="921.5" y="531.7">0.2</text>
<text x="103.8" y="468.5" text-anchor="end">0.3</text>
<text x="921.5" y="468.5">0.3</text>
<text x="103.8" y="405.3" text-anchor="end">0.4</text>
<text x="921.5" y="405.3">0.4</text>
<text x="103.8" y="342.1" text-anchor="end">0.5</text>
<text x="921.5" y="342.1">0.5</text>
<text x="103.8" y="279.0" text-anchor="end">0.6</text>
<text x="921.5" y="279.0">0.6</text>
<text x="103.8" y="215.8" text-anchor="end">0.7</text>
<text x="921.5" y="215.8">0.7</text>
<text x="103.8" y="152.6" text-anchor="end">0.8</text>
<text x="921.5" y="152.6">0.8</text>
<text x="103.8" y="89.4" text-anchor="end">0.9</text>
<text x="921.5" y="89.4">0.9</text>
<text x="103.8" y="26.2" text-anchor="end">1.0</text>
<text x="921.5" y="26.2">1.0</text>
<text x="124.8" y="696.9" text-anchor="middle">0.03</text>
<text x="236.8" y="696.9" text-anchor="middle">0.04</text>
<text x="348.7" y="696.9" text-anchor="middle">0.05</text>
<text x="460.7" y="696.9" text-anchor="middle">0.06</text>
<text x="572.6" y="696.9" text-anchor="middle">0.07</text>
<text x="684.6" y="696.9" text-anchor="middle">0.08</text>
<text x="796.5" y="696.9" text-anchor="middle">0.09</text>
<text x="908.5" y="696.9" text-anchor="middle">0.10</text>
</g>
<g stroke="#231f20" stroke-width="2.47" fill="none">
<path d="M116.9,819.2 H904.3 M129.7,819.2 V1455.3 M116.9,1442.5 H903.1 M903.1,819.2 V1455.3"/>
<path d="M123.2,1411.34 H129.7 M896.6,1411.34 H903.1 M116.9,1380.17 H129.7 M890.8,1380.17 H903.1 M123.2,1349.01 H129.7 M896.6,1349.01 H903.1 M116.9,1317.84 H129.7 M890.8,1317.84 H903.1 M123.2,1286.67 H129.7 M896.6,1286.67 H903.1 M116.9,1255.51 H129.7 M890.8,1255.51 H903.1 M123.2,1224.35 H129.7 M896.6,1224.35 H903.1 M116.9,1193.18 H129.7 M890.8,1193.18 H903.1 M123.2,1162.01 H129.7 M896.6,1162.01 H903.1 M116.9,1130.85 H129.7 M890.8,1130.85 H903.1 M123.2,1099.68 H129.7 M896.6,1099.68 H903.1 M116.9,1068.52 H129.7 M890.8,1068.52 H903.1 M123.2,1037.36 H129.7 M896.6,1037.36 H903.1 M116.9,1006.19 H129.7 M890.8,1006.19 H903.1 M123.2,975.02 H129.7 M896.6,975.02 H903.1 M116.9,943.86 H129.7 M890.8,943.86 H903.1 M123.2,912.70 H129.7 M896.6,912.70 H903.1 M116.9,881.53 H129.7 M890.8,881.53 H903.1 M123.2,850.37 H129.7 M896.6,850.37 H903.1 M184.94,1442.5 V1449.4 M240.19,1442.5 V1455.3 M295.43,1442.5 V1449.4 M350.67,1442.5 V1455.3 M405.91,1442.5 V1449.4 M461.16,1442.5 V1455.3 M516.40,1442.5 V1449.4 M571.64,1442.5 V1455.3 M626.89,1442.5 V1449.4 M682.13,1442.5 V1455.3 M737.37,1442.5 V1449.4 M792.61,1442.5 V1455.3 M847.86,1442.5 V1449.4 "/>
</g>
<path d="M129.7,1369.8 L132.4,1371.0 L135.2,1372.2 L137.9,1373.4 L140.7,1374.6 L143.4,1375.8 L146.2,1377.0 L148.9,1378.2 L151.7,1379.4 L154.4,1380.7 L157.2,1381.9 L159.9,1383.1 L162.6,1384.4 L165.4,1385.6 L168.1,1386.8 L170.9,1388.0 L173.6,1389.2 L176.4,1390.3 L179.2,1391.4 L182.0,1392.4 L184.8,1393.4 L187.7,1394.4 L190.5,1395.2 L193.4,1396.1 L196.3,1396.9 L199.2,1397.7 L202.1,1398.5 L205.0,1399.3 L207.9,1400.0 L210.8,1400.8 L213.7,1401.5 L216.6,1402.2 L219.6,1402.8 L222.5,1403.5 L225.4,1404.1 L228.4,1404.8 L231.3,1405.4 L234.2,1406.0 L237.2,1406.6 L240.1,1407.2 L243.0,1407.8 L246.0,1408.4 L248.9,1409.0 L251.9,1409.5 L254.8,1410.1 L257.8,1410.6 L260.7,1411.0 L263.7,1411.5 L266.7,1411.9 L269.6,1412.3 L272.6,1412.7 L275.6,1413.1 L278.6,1413.5 L281.6,1413.8 L284.5,1414.2 L287.5,1414.5 L290.5,1414.8 L293.5,1415.1 L296.5,1415.4 L299.5,1415.7 L302.4,1416.0 L305.4,1416.3 L308.4,1416.6 L311.4,1416.8 L314.4,1417.1 L317.4,1417.3 L320.4,1417.6 L323.4,1417.8 L326.4,1418.0 L329.4,1418.2 L332.4,1418.4 L335.3,1418.6 L338.3,1418.8 L341.3,1418.9 L344.3,1419.1 L347.3,1419.3 L350.3,1419.4 L353.3,1419.6 L356.3,1419.8 L359.3,1419.9 L362.3,1420.1 L365.3,1420.3 L368.3,1420.4 L371.3,1420.6 L374.3,1420.8 L377.3,1421.0 L380.3,1421.1 L383.3,1421.3 L386.3,1421.5 L389.3,1421.6 L392.3,1421.8 L395.3,1421.9 L398.2,1422.1 L401.2,1422.2 L404.2,1422.4 L407.2,1422.5 L410.2,1422.6 L413.2,1422.8 L416.2,1422.9 L419.2,1423.0 L422.2,1423.1 L425.2,1423.2 L428.2,1423.3 L431.2,1423.4 L434.2,1423.6 L437.2,1423.7 L440.2,1423.8 L443.2,1423.8 L446.2,1423.9 L449.2,1424.0 L452.2,1424.1 L455.2,1424.2 L458.2,1424.3 L461.2,1424.3 L464.2,1424.4 L467.2,1424.5 L470.2,1424.5 L473.2,1424.6 L476.2,1424.7 L479.2,1424.7 L482.2,1424.8 L485.2,1424.9 L488.2,1424.9 L491.2,1425.0 L494.2,1425.0 L497.2,1425.1 L500.2,1425.1 L503.2,1425.2 L506.2,1425.2 L509.2,1425.3 L512.2,1425.3 L515.2,1425.4 L518.2,1425.4 L521.2,1425.5 L524.2,1425.5 L527.2,1425.5 L530.2,1425.6 L533.2,1425.6 L536.2,1425.6 L539.2,1425.7 L542.2,1425.7 L545.2,1425.7 L548.2,1425.8 L551.2,1425.8 L554.2,1425.8 L557.2,1425.9 L560.2,1425.9 L563.2,1425.9 L566.2,1425.9 L569.2,1426.0 L572.2,1426.0 L575.2,1426.0 L578.2,1426.0 L581.2,1426.0 L584.2,1426.1 L587.2,1426.1 L590.2,1426.1 L593.2,1426.1 L596.2,1426.1 L599.2,1426.2 L602.2,1426.2 L605.2,1426.2 L608.2,1426.2 L611.2,1426.2 L614.2,1426.3 L617.2,1426.3 L620.2,1426.3 L623.2,1426.3 L626.2,1426.3 L629.2,1426.3 L632.2,1426.3 L635.2,1426.4 L638.2,1426.4 L641.2,1426.4 L644.2,1426.4 L647.2,1426.4 L650.2,1426.4 L653.2,1426.4 L656.2,1426.4 L659.2,1426.5 L662.2,1426.5 L665.2,1426.5 L668.2,1426.5 L671.2,1426.5 L674.2,1426.5 L677.2,1426.5 L680.2,1426.5 L683.2,1426.6 L686.2,1426.6 L689.2,1426.6 L692.2,1426.6 L695.2,1426.6 L698.2,1426.6 L701.2,1426.6 L704.2,1426.6 L707.2,1426.6 L710.2,1426.6 L713.2,1426.7 L716.2,1426.7 L719.2,1426.7 L722.2,1426.7 L725.2,1426.7 L728.2,1426.7 L731.2,1426.7 L734.2,1426.7 L737.2,1426.7 L740.2,1426.7 L743.2,1426.7 L746.2,1426.8 L749.2,1426.8 L752.2,1426.8 L755.2,1426.8 L758.2,1426.8 L761.2,1426.8 L764.2,1426.8 L767.2,1426.8 L770.2,1426.8 L773.2,1426.8 L776.2,1426.9 L779.2,1426.9 L782.2,1426.9 L785.2,1426.9 L788.2,1426.9 L791.2,1426.9 L794.2,1426.9 L797.2,1426.9 L800.2,1426.9 L803.2,1426.9 L806.2,1426.9 L809.2,1427.0 L812.2,1427.0 L815.2,1427.0 L818.2,1427.0 L821.2,1427.0 L824.2,1427.0 L827.2,1427.0 L830.2,1427.0 L833.2,1427.0 L836.2,1427.0 L839.2,1427.0 L842.2,1427.0 L845.2,1427.1 L848.2,1427.1 L851.2,1427.1 L854.2,1427.1 L857.2,1427.1 L860.2,1427.1 L863.2,1427.1 L866.2,1427.1 L869.2,1427.1 L872.2,1427.1 L875.2,1427.1 L878.2,1427.1 L881.2,1427.1 L884.2,1427.2 L887.2,1427.2 L890.2,1427.2 L893.2,1427.2 L896.2,1427.2 L899.1,1427.2 L902.1,1427.2 L903.1,1427.2" fill="none" stroke="#0f6636" stroke-width="3.3" stroke-dasharray="4.8 8.9"/>
<path d="M129.7,891.9 L132.4,890.7 L135.2,889.5 L137.9,888.3 L140.7,887.1 L143.4,885.9 L146.2,884.7 L148.9,883.5 L151.7,882.3 L154.4,881.0 L157.2,879.8 L159.9,878.6 L162.6,877.3 L165.4,876.1 L168.1,874.9 L170.9,873.7 L173.6,872.5 L176.4,871.4 L179.2,870.3 L182.0,869.3 L184.8,868.3 L187.7,867.3 L190.5,866.5 L193.4,865.6 L196.3,864.8 L199.2,864.0 L202.1,863.2 L205.0,862.4 L207.9,861.7 L210.8,860.9 L213.7,860.2 L216.6,859.5 L219.6,858.9 L222.5,858.2 L225.4,857.6 L228.4,856.9 L231.3,856.3 L234.2,855.7 L237.2,855.1 L240.1,854.5 L243.0,853.9 L246.0,853.3 L248.9,852.7 L251.9,852.2 L254.8,851.6 L257.8,851.1 L260.7,850.7 L263.7,850.2 L266.7,849.8 L269.6,849.4 L272.6,849.0 L275.6,848.6 L278.6,848.2 L281.6,847.9 L284.5,847.5 L287.5,847.2 L290.5,846.9 L293.5,846.6 L296.5,846.3 L299.5,846.0 L302.4,845.7 L305.4,845.4 L308.4,845.1 L311.4,844.9 L314.4,844.6 L317.4,844.4 L320.4,844.1 L323.4,843.9 L326.4,843.7 L329.4,843.5 L332.4,843.3 L335.3,843.1 L338.3,842.9 L341.3,842.8 L344.3,842.6 L347.3,842.4 L350.3,842.3 L353.3,842.1 L356.3,841.9 L359.3,841.8 L362.3,841.6 L365.3,841.4 L368.3,841.3 L371.3,841.1 L374.3,840.9 L377.3,840.7 L380.3,840.6 L383.3,840.4 L386.3,840.2 L389.3,840.1 L392.3,839.9 L395.3,839.8 L398.2,839.6 L401.2,839.5 L404.2,839.3 L407.2,839.2 L410.2,839.1 L413.2,838.9 L416.2,838.8 L419.2,838.7 L422.2,838.6 L425.2,838.5 L428.2,838.4 L431.2,838.3 L434.2,838.1 L437.2,838.0 L440.2,837.9 L443.2,837.9 L446.2,837.8 L449.2,837.7 L452.2,837.6 L455.2,837.5 L458.2,837.4 L461.2,837.4 L464.2,837.3 L467.2,837.2 L470.2,837.2 L473.2,837.1 L476.2,837.0 L479.2,837.0 L482.2,836.9 L485.2,836.8 L488.2,836.8 L491.2,836.7 L494.2,836.7 L497.2,836.6 L500.2,836.6 L503.2,836.5 L506.2,836.5 L509.2,836.4 L512.2,836.4 L515.2,836.3 L518.2,836.3 L521.2,836.2 L524.2,836.2 L527.2,836.2 L530.2,836.1 L533.2,836.1 L536.2,836.1 L539.2,836.0 L542.2,836.0 L545.2,836.0 L548.2,835.9 L551.2,835.9 L554.2,835.9 L557.2,835.8 L560.2,835.8 L563.2,835.8 L566.2,835.8 L569.2,835.7 L572.2,835.7 L575.2,835.7 L578.2,835.7 L581.2,835.7 L584.2,835.6 L587.2,835.6 L590.2,835.6 L593.2,835.6 L596.2,835.6 L599.2,835.5 L602.2,835.5 L605.2,835.5 L608.2,835.5 L611.2,835.5 L614.2,835.4 L617.2,835.4 L620.2,835.4 L623.2,835.4 L626.2,835.4 L629.2,835.4 L632.2,835.4 L635.2,835.3 L638.2,835.3 L641.2,835.3 L644.2,835.3 L647.2,835.3 L650.2,835.3 L653.2,835.3 L656.2,835.3 L659.2,835.2 L662.2,835.2 L665.2,835.2 L668.2,835.2 L671.2,835.2 L674.2,835.2 L677.2,835.2 L680.2,835.2 L683.2,835.1 L686.2,835.1 L689.2,835.1 L692.2,835.1 L695.2,835.1 L698.2,835.1 L701.2,835.1 L704.2,835.1 L707.2,835.1 L710.2,835.1 L713.2,835.0 L716.2,835.0 L719.2,835.0 L722.2,835.0 L725.2,835.0 L728.2,835.0 L731.2,835.0 L734.2,835.0 L737.2,835.0 L740.2,835.0 L743.2,835.0 L746.2,834.9 L749.2,834.9 L752.2,834.9 L755.2,834.9 L758.2,834.9 L761.2,834.9 L764.2,834.9 L767.2,834.9 L770.2,834.9 L773.2,834.9 L776.2,834.8 L779.2,834.8 L782.2,834.8 L785.2,834.8 L788.2,834.8 L791.2,834.8 L794.2,834.8 L797.2,834.8 L800.2,834.8 L803.2,834.8 L806.2,834.8 L809.2,834.7 L812.2,834.7 L815.2,834.7 L818.2,834.7 L821.2,834.7 L824.2,834.7 L827.2,834.7 L830.2,834.7 L833.2,834.7 L836.2,834.7 L839.2,834.7 L842.2,834.7 L845.2,834.6 L848.2,834.6 L851.2,834.6 L854.2,834.6 L857.2,834.6 L860.2,834.6 L863.2,834.6 L866.2,834.6 L869.2,834.6 L872.2,834.6 L875.2,834.6 L878.2,834.6 L881.2,834.6 L884.2,834.5 L887.2,834.5 L890.2,834.5 L893.2,834.5 L896.2,834.5 L899.1,834.5 L902.1,834.5 L903.1,834.5" fill="none" stroke="#0f6636" stroke-width="3.3" stroke-dasharray="4.8 8.9"/>
<path d="M129.7,1240.8 L131.3,1243.3 L132.9,1245.9 L134.5,1248.4 L136.1,1251.0 L137.6,1253.5 L139.2,1256.1 L140.8,1258.6 L142.4,1261.2 L144.0,1263.7 L145.6,1266.3 L147.1,1268.8 L148.7,1271.4 L150.3,1273.9 L151.9,1276.4 L153.5,1279.0 L155.2,1281.5 L156.8,1284.0 L158.5,1286.5 L160.1,1289.0 L161.8,1291.5 L163.5,1294.0 L165.2,1296.4 L166.9,1298.9 L168.7,1301.3 L170.4,1303.8 L172.2,1306.2 L174.0,1308.6 L175.8,1311.0 L177.7,1313.3 L179.5,1315.7 L181.4,1318.1 L183.3,1320.4 L185.2,1322.7 L187.1,1325.1 L189.0,1327.3 L191.0,1329.6 L193.0,1331.8 L195.0,1334.1 L197.1,1336.2 L199.1,1338.4 L201.2,1340.5 L203.4,1342.6 L205.5,1344.7 L207.7,1346.8 L210.0,1348.8 L212.2,1350.8 L214.5,1352.8 L216.8,1354.7 L219.1,1356.6 L221.5,1358.4 L223.8,1360.3 L226.3,1362.0 L228.7,1363.8 L231.1,1365.5 L233.6,1367.2 L236.1,1368.8 L238.7,1370.5 L241.2,1372.1 L243.8,1373.6 L246.4,1375.2 L249.0,1376.6 L251.7,1378.1 L254.3,1379.5 L257.0,1380.8 L259.7,1382.1 L262.4,1383.3 L265.1,1384.5 L267.9,1385.7 L270.6,1386.8 L273.4,1387.9 L276.3,1389.0 L279.1,1390.0 L281.9,1391.0 L284.8,1392.0 L287.6,1393.0 L290.5,1393.9 L293.3,1394.9 L296.2,1395.8 L299.0,1396.7 L301.9,1397.6 L304.8,1398.5 L307.6,1399.3 L310.5,1400.2 L313.4,1401.0 L316.3,1401.8 L319.2,1402.6 L322.1,1403.4 L325.0,1404.1 L327.9,1404.8 L330.8,1405.5 L333.8,1406.1 L336.7,1406.7 L339.6,1407.3 L342.6,1407.9 L345.5,1408.4 L348.5,1409.0 L351.5,1409.5 L354.4,1410.0 L357.4,1410.5 L360.3,1410.9 L363.3,1411.4 L366.3,1411.8 L369.2,1412.3 L372.2,1412.7 L375.2,1413.1 L378.2,1413.4 L381.1,1413.8 L384.1,1414.1 L387.1,1414.5 L390.1,1414.8 L393.1,1415.1 L396.1,1415.3 L399.0,1415.6 L402.0,1415.9 L405.0,1416.1 L408.0,1416.4 L411.0,1416.6 L414.0,1416.8 L417.0,1417.0 L420.0,1417.3 L423.0,1417.5 L426.0,1417.7 L429.0,1417.9 L432.0,1418.0 L435.0,1418.2 L437.9,1418.4 L440.9,1418.5 L443.9,1418.7 L446.9,1418.8 L449.9,1419.0 L452.9,1419.1 L455.9,1419.2 L458.9,1419.3 L461.9,1419.4 L464.9,1419.5 L467.9,1419.6 L470.9,1419.7 L473.9,1419.8 L476.9,1419.9 L479.9,1420.0 L482.9,1420.1 L485.9,1420.2 L488.9,1420.3 L491.9,1420.4 L494.9,1420.5 L497.9,1420.6 L500.9,1420.7 L503.9,1420.8 L506.9,1420.9 L509.9,1421.0 L512.9,1421.1 L515.9,1421.2 L518.9,1421.3 L521.9,1421.4 L524.9,1421.5 L527.9,1421.6 L530.9,1421.7 L533.9,1421.8 L536.9,1421.9 L539.9,1422.0 L542.9,1422.1 L545.9,1422.2 L548.9,1422.2 L551.9,1422.3 L554.9,1422.4 L557.9,1422.5 L560.9,1422.5 L563.9,1422.6 L566.9,1422.7 L569.9,1422.8 L572.9,1422.8 L575.9,1422.9 L578.9,1423.0 L581.9,1423.0 L584.9,1423.1 L587.9,1423.2 L590.9,1423.2 L593.9,1423.3 L596.9,1423.3 L599.9,1423.4 L602.9,1423.5 L605.9,1423.5 L608.9,1423.6 L611.9,1423.6 L614.9,1423.7 L617.9,1423.7 L620.9,1423.8 L623.9,1423.8 L626.9,1423.8 L629.9,1423.9 L632.9,1423.9 L635.9,1424.0 L638.9,1424.0 L641.9,1424.1 L644.9,1424.1 L647.9,1424.1 L650.9,1424.2 L653.9,1424.2 L656.9,1424.2 L659.9,1424.3 L662.9,1424.3 L665.9,1424.3 L668.9,1424.4 L671.9,1424.4 L674.9,1424.4 L677.9,1424.5 L680.9,1424.5 L683.9,1424.5 L686.9,1424.6 L689.9,1424.6 L692.9,1424.6 L695.9,1424.7 L698.9,1424.7 L701.9,1424.7 L704.9,1424.7 L707.9,1424.8 L710.9,1424.8 L713.9,1424.8 L716.9,1424.9 L719.9,1424.9 L722.9,1424.9 L725.9,1424.9 L728.9,1425.0 L731.9,1425.0 L734.9,1425.0 L737.9,1425.0 L740.9,1425.1 L743.9,1425.1 L746.9,1425.1 L749.9,1425.1 L752.9,1425.1 L755.9,1425.2 L758.9,1425.2 L761.9,1425.2 L764.9,1425.2 L767.9,1425.3 L770.9,1425.3 L773.9,1425.3 L776.9,1425.3 L779.9,1425.3 L782.9,1425.4 L785.9,1425.4 L788.9,1425.4 L791.9,1425.4 L794.9,1425.4 L797.9,1425.5 L800.9,1425.5 L803.9,1425.5 L806.9,1425.5 L809.9,1425.5 L812.9,1425.6 L815.9,1425.6 L818.9,1425.6 L821.9,1425.6 L824.9,1425.6 L827.9,1425.6 L830.9,1425.7 L833.9,1425.7 L836.9,1425.7 L839.9,1425.7 L842.9,1425.7 L845.9,1425.8 L848.9,1425.8 L851.9,1425.8 L854.9,1425.8 L857.9,1425.8 L860.9,1425.8 L863.9,1425.8 L866.9,1425.9 L869.9,1425.9 L872.9,1425.9 L875.9,1425.9 L878.9,1425.9 L881.8,1425.9 L884.8,1425.9 L887.8,1425.9 L890.8,1426.0 L893.7,1426.0 L896.6,1426.0 L899.4,1426.0 L902.2,1426.0 L903.1,1426.0" fill="none" stroke="#3053a8" stroke-width="3.3" stroke-dasharray="16 9.7 2.4 9.7"/>
<path d="M129.7,1020.9 L131.3,1018.4 L132.9,1015.8 L134.5,1013.3 L136.1,1010.7 L137.6,1008.2 L139.2,1005.6 L140.8,1003.1 L142.4,1000.5 L144.0,998.0 L145.6,995.4 L147.1,992.9 L148.7,990.3 L150.3,987.8 L151.9,985.3 L153.5,982.7 L155.2,980.2 L156.8,977.7 L158.5,975.2 L160.1,972.7 L161.8,970.2 L163.5,967.7 L165.2,965.3 L166.9,962.8 L168.7,960.4 L170.4,957.9 L172.2,955.5 L174.0,953.1 L175.8,950.7 L177.7,948.4 L179.5,946.0 L181.4,943.6 L183.3,941.3 L185.2,939.0 L187.1,936.6 L189.0,934.4 L191.0,932.1 L193.0,929.9 L195.0,927.6 L197.1,925.5 L199.1,923.3 L201.2,921.2 L203.4,919.1 L205.5,917.0 L207.7,914.9 L210.0,912.9 L212.2,910.9 L214.5,908.9 L216.8,907.0 L219.1,905.1 L221.5,903.3 L223.8,901.4 L226.3,899.7 L228.7,897.9 L231.1,896.2 L233.6,894.5 L236.1,892.9 L238.7,891.2 L241.2,889.6 L243.8,888.1 L246.4,886.5 L249.0,885.1 L251.7,883.6 L254.3,882.2 L257.0,880.9 L259.7,879.6 L262.4,878.4 L265.1,877.2 L267.9,876.0 L270.6,874.9 L273.4,873.8 L276.3,872.7 L279.1,871.7 L281.9,870.7 L284.8,869.7 L287.6,868.7 L290.5,867.8 L293.3,866.8 L296.2,865.9 L299.0,865.0 L301.9,864.1 L304.8,863.2 L307.6,862.4 L310.5,861.5 L313.4,860.7 L316.3,859.9 L319.2,859.1 L322.1,858.3 L325.0,857.6 L327.9,856.9 L330.8,856.2 L333.8,855.6 L336.7,855.0 L339.6,854.4 L342.6,853.8 L345.5,853.3 L348.5,852.7 L351.5,852.2 L354.4,851.7 L357.4,851.2 L360.3,850.8 L363.3,850.3 L366.3,849.9 L369.2,849.4 L372.2,849.0 L375.2,848.6 L378.2,848.3 L381.1,847.9 L384.1,847.6 L387.1,847.2 L390.1,846.9 L393.1,846.6 L396.1,846.4 L399.0,846.1 L402.0,845.8 L405.0,845.6 L408.0,845.3 L411.0,845.1 L414.0,844.9 L417.0,844.7 L420.0,844.4 L423.0,844.2 L426.0,844.0 L429.0,843.8 L432.0,843.7 L435.0,843.5 L437.9,843.3 L440.9,843.2 L443.9,843.0 L446.9,842.9 L449.9,842.7 L452.9,842.6 L455.9,842.5 L458.9,842.4 L461.9,842.3 L464.9,842.2 L467.9,842.1 L470.9,842.0 L473.9,841.9 L476.9,841.8 L479.9,841.7 L482.9,841.6 L485.9,841.5 L488.9,841.4 L491.9,841.3 L494.9,841.2 L497.9,841.1 L500.9,841.0 L503.9,840.9 L506.9,840.8 L509.9,840.7 L512.9,840.6 L515.9,840.5 L518.9,840.4 L521.9,840.3 L524.9,840.2 L527.9,840.1 L530.9,840.0 L533.9,839.9 L536.9,839.8 L539.9,839.7 L542.9,839.6 L545.9,839.5 L548.9,839.5 L551.9,839.4 L554.9,839.3 L557.9,839.2 L560.9,839.2 L563.9,839.1 L566.9,839.0 L569.9,838.9 L572.9,838.9 L575.9,838.8 L578.9,838.7 L581.9,838.7 L584.9,838.6 L587.9,838.5 L590.9,838.5 L593.9,838.4 L596.9,838.4 L599.9,838.3 L602.9,838.2 L605.9,838.2 L608.9,838.1 L611.9,838.1 L614.9,838.0 L617.9,838.0 L620.9,837.9 L623.9,837.9 L626.9,837.9 L629.9,837.8 L632.9,837.8 L635.9,837.7 L638.9,837.7 L641.9,837.6 L644.9,837.6 L647.9,837.6 L650.9,837.5 L653.9,837.5 L656.9,837.5 L659.9,837.4 L662.9,837.4 L665.9,837.4 L668.9,837.3 L671.9,837.3 L674.9,837.3 L677.9,837.2 L680.9,837.2 L683.9,837.2 L686.9,837.1 L689.9,837.1 L692.9,837.1 L695.9,837.0 L698.9,837.0 L701.9,837.0 L704.9,837.0 L707.9,836.9 L710.9,836.9 L713.9,836.9 L716.9,836.8 L719.9,836.8 L722.9,836.8 L725.9,836.8 L728.9,836.7 L731.9,836.7 L734.9,836.7 L737.9,836.7 L740.9,836.6 L743.9,836.6 L746.9,836.6 L749.9,836.6 L752.9,836.6 L755.9,836.5 L758.9,836.5 L761.9,836.5 L764.9,836.5 L767.9,836.4 L770.9,836.4 L773.9,836.4 L776.9,836.4 L779.9,836.4 L782.9,836.3 L785.9,836.3 L788.9,836.3 L791.9,836.3 L794.9,836.3 L797.9,836.2 L800.9,836.2 L803.9,836.2 L806.9,836.2 L809.9,836.2 L812.9,836.1 L815.9,836.1 L818.9,836.1 L821.9,836.1 L824.9,836.1 L827.9,836.1 L830.9,836.0 L833.9,836.0 L836.9,836.0 L839.9,836.0 L842.9,836.0 L845.9,835.9 L848.9,835.9 L851.9,835.9 L854.9,835.9 L857.9,835.9 L860.9,835.9 L863.9,835.9 L866.9,835.8 L869.9,835.8 L872.9,835.8 L875.9,835.8 L878.9,835.8 L881.8,835.8 L884.8,835.8 L887.8,835.8 L890.8,835.7 L893.7,835.7 L896.6,835.7 L899.4,835.7 L902.2,835.7 L903.1,835.7" fill="none" stroke="#3053a8" stroke-width="3.3" stroke-dasharray="16 9.7 2.4 9.7"/>
<path d="M129.7,947.5 L130.8,950.3 L131.9,953.1 L132.9,955.9 L134.0,958.7 L135.1,961.5 L136.2,964.3 L137.3,967.1 L138.4,969.9 L139.5,972.7 L140.6,975.5 L141.7,978.3 L142.8,981.0 L143.9,983.8 L145.0,986.6 L146.1,989.4 L147.2,992.2 L148.3,995.0 L149.4,997.8 L150.6,1000.5 L151.7,1003.3 L152.8,1006.1 L153.9,1008.9 L155.0,1011.7 L156.1,1014.5 L157.1,1017.3 L158.2,1020.1 L159.3,1022.9 L160.4,1025.7 L161.4,1028.5 L162.5,1031.3 L163.5,1034.1 L164.6,1036.9 L165.6,1039.8 L166.6,1042.6 L167.7,1045.4 L168.7,1048.2 L169.7,1051.1 L170.6,1053.9 L171.6,1056.7 L172.6,1059.6 L173.5,1062.4 L174.5,1065.3 L175.4,1068.1 L176.3,1071.0 L177.2,1073.8 L178.1,1076.7 L178.9,1079.6 L179.8,1082.5 L180.7,1085.3 L181.5,1088.2 L182.4,1091.1 L183.3,1093.9 L184.3,1096.8 L185.2,1099.6 L186.2,1102.5 L187.1,1105.3 L188.1,1108.1 L189.1,1111.0 L190.1,1113.8 L191.0,1116.6 L192.0,1119.5 L192.9,1122.3 L193.9,1125.2 L194.8,1128.1 L195.7,1130.9 L196.5,1133.8 L197.4,1136.7 L198.3,1139.5 L199.2,1142.4 L200.1,1145.2 L201.0,1148.1 L201.9,1151.0 L202.9,1153.8 L203.9,1156.6 L204.9,1159.5 L205.9,1162.3 L206.9,1165.1 L207.9,1167.9 L209.0,1170.7 L210.0,1173.6 L211.1,1176.4 L212.2,1179.2 L213.2,1182.0 L214.3,1184.7 L215.5,1187.5 L216.6,1190.3 L217.7,1193.1 L218.8,1195.9 L220.0,1198.7 L221.1,1201.4 L222.2,1204.2 L223.2,1207.0 L224.3,1209.8 L225.3,1212.7 L226.4,1215.5 L227.4,1218.3 L228.4,1221.1 L229.5,1223.9 L230.6,1226.7 L231.7,1229.5 L232.8,1232.3 L234.0,1235.0 L235.3,1237.7 L236.5,1240.5 L237.8,1243.2 L239.1,1245.9 L240.4,1248.6 L241.8,1251.3 L243.1,1253.9 L244.5,1256.6 L245.9,1259.3 L247.3,1261.9 L248.7,1264.6 L250.1,1267.2 L251.5,1269.9 L253.0,1272.5 L254.5,1275.1 L255.9,1277.7 L257.5,1280.3 L259.0,1282.9 L260.5,1285.5 L262.0,1288.1 L263.6,1290.6 L265.1,1293.2 L266.7,1295.8 L268.2,1298.3 L269.8,1300.9 L271.5,1303.4 L273.1,1305.9 L274.8,1308.4 L276.5,1310.8 L278.3,1313.3 L280.1,1315.7 L281.9,1318.0 L283.8,1320.4 L285.7,1322.7 L287.6,1325.0 L289.6,1327.2 L291.6,1329.5 L293.7,1331.7 L295.7,1333.8 L297.8,1336.0 L299.9,1338.1 L302.1,1340.2 L304.2,1342.3 L306.4,1344.4 L308.7,1346.4 L310.9,1348.4 L313.2,1350.3 L315.5,1352.2 L317.9,1354.1 L320.2,1355.9 L322.6,1357.7 L325.1,1359.4 L327.6,1361.1 L330.1,1362.8 L332.6,1364.4 L335.1,1366.0 L337.7,1367.6 L340.3,1369.1 L342.9,1370.6 L345.5,1372.1 L348.1,1373.5 L350.8,1374.9 L353.5,1376.3 L356.1,1377.6 L358.8,1378.9 L361.6,1380.2 L364.3,1381.4 L367.1,1382.6 L369.8,1383.7 L372.6,1384.9 L375.4,1386.0 L378.2,1387.0 L381.0,1388.1 L383.8,1389.1 L386.7,1390.1 L389.5,1391.0 L392.4,1392.0 L395.2,1392.9 L398.1,1393.8 L400.9,1394.7 L403.8,1395.6 L406.7,1396.5 L409.6,1397.3 L412.5,1398.2 L415.3,1399.0 L418.2,1399.8 L421.2,1400.5 L424.1,1401.2 L427.0,1401.8 L429.9,1402.4 L432.9,1402.9 L435.8,1403.4 L438.8,1403.8 L441.8,1404.2 L444.7,1404.6 L447.7,1405.0 L450.7,1405.4 L453.7,1405.8 L456.6,1406.2 L459.6,1406.6 L462.6,1407.0 L465.6,1407.4 L468.5,1407.8 L471.5,1408.3 L474.5,1408.7 L477.5,1409.1 L480.4,1409.5 L483.4,1409.9 L486.4,1410.2 L489.4,1410.5 L492.4,1410.8 L495.3,1411.1 L498.3,1411.3 L501.3,1411.5 L504.3,1411.7 L507.3,1412.0 L510.3,1412.2 L513.3,1412.4 L516.3,1412.6 L519.3,1412.8 L522.3,1413.1 L525.3,1413.3 L528.2,1413.6 L531.2,1413.8 L534.2,1414.1 L537.2,1414.3 L540.2,1414.6 L543.2,1414.8 L546.2,1415.0 L549.2,1415.2 L552.2,1415.4 L555.2,1415.6 L558.2,1415.8 L561.2,1416.0 L564.1,1416.1 L567.1,1416.3 L570.1,1416.4 L573.1,1416.6 L576.1,1416.7 L579.1,1416.9 L582.1,1417.0 L585.1,1417.2 L588.1,1417.3 L591.1,1417.5 L594.1,1417.6 L597.1,1417.8 L600.1,1417.9 L603.1,1418.0 L606.1,1418.2 L609.1,1418.3 L612.1,1418.4 L615.1,1418.5 L618.1,1418.6 L621.1,1418.7 L624.1,1418.8 L627.1,1418.9 L630.1,1419.0 L633.1,1419.1 L636.1,1419.2 L639.1,1419.3 L642.1,1419.4 L645.1,1419.5 L648.1,1419.6 L651.1,1419.7 L654.1,1419.8 L657.1,1419.8 L660.1,1419.9 L663.1,1420.0 L666.1,1420.1 L669.1,1420.2 L672.1,1420.3 L675.1,1420.3 L678.1,1420.4 L681.1,1420.5 L684.1,1420.6 L687.1,1420.6 L690.1,1420.7 L693.1,1420.8 L696.1,1420.9 L699.1,1420.9 L702.1,1421.0 L705.1,1421.1 L708.1,1421.1 L711.1,1421.2 L714.1,1421.2 L717.1,1421.3 L720.1,1421.4 L723.1,1421.4 L726.1,1421.5 L729.1,1421.5 L732.1,1421.6 L735.1,1421.6 L738.1,1421.7 L741.1,1421.8 L744.1,1421.8 L747.1,1421.9 L750.1,1421.9 L753.1,1422.0 L756.0,1422.0 L759.0,1422.0 L762.0,1422.1 L765.0,1422.1 L768.0,1422.2 L771.0,1422.2 L774.0,1422.3 L777.0,1422.3 L780.0,1422.4 L783.0,1422.4 L786.0,1422.4 L789.0,1422.5 L792.0,1422.5 L795.0,1422.6 L798.0,1422.6 L801.0,1422.6 L804.0,1422.7 L807.0,1422.7 L810.0,1422.8 L813.0,1422.8 L816.0,1422.8 L819.0,1422.9 L822.0,1422.9 L825.0,1422.9 L828.0,1423.0 L831.0,1423.0 L834.0,1423.1 L837.0,1423.1 L840.0,1423.1 L843.0,1423.2 L846.0,1423.2 L849.0,1423.2 L852.0,1423.3 L855.0,1423.3 L858.0,1423.3 L861.0,1423.4 L864.0,1423.4 L867.0,1423.4 L870.0,1423.5 L873.0,1423.5 L876.0,1423.5 L879.0,1423.6 L882.0,1423.6 L885.0,1423.6 L888.0,1423.7 L891.0,1423.7 L893.9,1423.7 L896.7,1423.7 L899.5,1423.8 L902.2,1423.8 L903.1,1423.8" fill="none" stroke="#7e151b" stroke-width="3.3" stroke-dasharray="13.4 16.7"/>
<path d="M129.7,1314.2 L130.8,1311.4 L131.9,1308.6 L132.9,1305.8 L134.0,1303.0 L135.1,1300.2 L136.2,1297.4 L137.3,1294.6 L138.4,1291.8 L139.5,1289.0 L140.6,1286.2 L141.7,1283.4 L142.8,1280.7 L143.9,1277.9 L145.0,1275.1 L146.1,1272.3 L147.2,1269.5 L148.3,1266.7 L149.4,1263.9 L150.6,1261.2 L151.7,1258.4 L152.8,1255.6 L153.9,1252.8 L155.0,1250.0 L156.1,1247.2 L157.1,1244.4 L158.2,1241.6 L159.3,1238.8 L160.4,1236.0 L161.4,1233.2 L162.5,1230.4 L163.5,1227.6 L164.6,1224.8 L165.6,1221.9 L166.6,1219.1 L167.7,1216.3 L168.7,1213.5 L169.7,1210.6 L170.6,1207.8 L171.6,1205.0 L172.6,1202.1 L173.5,1199.3 L174.5,1196.4 L175.4,1193.6 L176.3,1190.7 L177.2,1187.9 L178.1,1185.0 L178.9,1182.1 L179.8,1179.2 L180.7,1176.4 L181.5,1173.5 L182.4,1170.6 L183.3,1167.8 L184.3,1164.9 L185.2,1162.1 L186.2,1159.2 L187.1,1156.4 L188.1,1153.6 L189.1,1150.7 L190.1,1147.9 L191.0,1145.1 L192.0,1142.2 L192.9,1139.4 L193.9,1136.5 L194.8,1133.6 L195.7,1130.8 L196.5,1127.9 L197.4,1125.0 L198.3,1122.2 L199.2,1119.3 L200.1,1116.5 L201.0,1113.6 L201.9,1110.7 L202.9,1107.9 L203.9,1105.1 L204.9,1102.2 L205.9,1099.4 L206.9,1096.6 L207.9,1093.8 L209.0,1091.0 L210.0,1088.1 L211.1,1085.3 L212.2,1082.5 L213.2,1079.7 L214.3,1077.0 L215.5,1074.2 L216.6,1071.4 L217.7,1068.6 L218.8,1065.8 L220.0,1063.0 L221.1,1060.3 L222.2,1057.5 L223.2,1054.7 L224.3,1051.9 L225.3,1049.0 L226.4,1046.2 L227.4,1043.4 L228.4,1040.6 L229.5,1037.8 L230.6,1035.0 L231.7,1032.2 L232.8,1029.4 L234.0,1026.7 L235.3,1024.0 L236.5,1021.2 L237.8,1018.5 L239.1,1015.8 L240.4,1013.1 L241.8,1010.4 L243.1,1007.8 L244.5,1005.1 L245.9,1002.4 L247.3,999.8 L248.7,997.1 L250.1,994.5 L251.5,991.8 L253.0,989.2 L254.5,986.6 L255.9,984.0 L257.5,981.4 L259.0,978.8 L260.5,976.2 L262.0,973.6 L263.6,971.1 L265.1,968.5 L266.7,965.9 L268.2,963.4 L269.8,960.8 L271.5,958.3 L273.1,955.8 L274.8,953.3 L276.5,950.9 L278.3,948.4 L280.1,946.0 L281.9,943.7 L283.8,941.3 L285.7,939.0 L287.6,936.7 L289.6,934.5 L291.6,932.2 L293.7,930.0 L295.7,927.9 L297.8,925.7 L299.9,923.6 L302.1,921.5 L304.2,919.4 L306.4,917.3 L308.7,915.3 L310.9,913.3 L313.2,911.4 L315.5,909.5 L317.9,907.6 L320.2,905.8 L322.6,904.0 L325.1,902.3 L327.6,900.6 L330.1,898.9 L332.6,897.3 L335.1,895.7 L337.7,894.1 L340.3,892.6 L342.9,891.1 L345.5,889.6 L348.1,888.2 L350.8,886.8 L353.5,885.4 L356.1,884.1 L358.8,882.8 L361.6,881.5 L364.3,880.3 L367.1,879.1 L369.8,878.0 L372.6,876.8 L375.4,875.7 L378.2,874.7 L381.0,873.6 L383.8,872.6 L386.7,871.6 L389.5,870.7 L392.4,869.7 L395.2,868.8 L398.1,867.9 L400.9,867.0 L403.8,866.1 L406.7,865.2 L409.6,864.4 L412.5,863.5 L415.3,862.7 L418.2,861.9 L421.2,861.2 L424.1,860.5 L427.0,859.9 L429.9,859.3 L432.9,858.8 L435.8,858.3 L438.8,857.9 L441.8,857.5 L444.7,857.1 L447.7,856.7 L450.7,856.3 L453.7,855.9 L456.6,855.5 L459.6,855.1 L462.6,854.7 L465.6,854.3 L468.5,853.9 L471.5,853.4 L474.5,853.0 L477.5,852.6 L480.4,852.2 L483.4,851.8 L486.4,851.5 L489.4,851.2 L492.4,850.9 L495.3,850.6 L498.3,850.4 L501.3,850.2 L504.3,850.0 L507.3,849.7 L510.3,849.5 L513.3,849.3 L516.3,849.1 L519.3,848.9 L522.3,848.6 L525.3,848.4 L528.2,848.1 L531.2,847.9 L534.2,847.6 L537.2,847.4 L540.2,847.1 L543.2,846.9 L546.2,846.7 L549.2,846.5 L552.2,846.3 L555.2,846.1 L558.2,845.9 L561.2,845.7 L564.1,845.6 L567.1,845.4 L570.1,845.3 L573.1,845.1 L576.1,845.0 L579.1,844.8 L582.1,844.7 L585.1,844.5 L588.1,844.4 L591.1,844.2 L594.1,844.1 L597.1,843.9 L600.1,843.8 L603.1,843.7 L606.1,843.5 L609.1,843.4 L612.1,843.3 L615.1,843.2 L618.1,843.1 L621.1,843.0 L624.1,842.9 L627.1,842.8 L630.1,842.7 L633.1,842.6 L636.1,842.5 L639.1,842.4 L642.1,842.3 L645.1,842.2 L648.1,842.1 L651.1,842.0 L654.1,841.9 L657.1,841.9 L660.1,841.8 L663.1,841.7 L666.1,841.6 L669.1,841.5 L672.1,841.4 L675.1,841.4 L678.1,841.3 L681.1,841.2 L684.1,841.1 L687.1,841.1 L690.1,841.0 L693.1,840.9 L696.1,840.8 L699.1,840.8 L702.1,840.7 L705.1,840.6 L708.1,840.6 L711.1,840.5 L714.1,840.5 L717.1,840.4 L720.1,840.3 L723.1,840.3 L726.1,840.2 L729.1,840.2 L732.1,840.1 L735.1,840.1 L738.1,840.0 L741.1,839.9 L744.1,839.9 L747.1,839.8 L750.1,839.8 L753.1,839.7 L756.0,839.7 L759.0,839.7 L762.0,839.6 L765.0,839.6 L768.0,839.5 L771.0,839.5 L774.0,839.4 L777.0,839.4 L780.0,839.3 L783.0,839.3 L786.0,839.3 L789.0,839.2 L792.0,839.2 L795.0,839.1 L798.0,839.1 L801.0,839.1 L804.0,839.0 L807.0,839.0 L810.0,838.9 L813.0,838.9 L816.0,838.9 L819.0,838.8 L822.0,838.8 L825.0,838.8 L828.0,838.7 L831.0,838.7 L834.0,838.6 L837.0,838.6 L840.0,838.6 L843.0,838.5 L846.0,838.5 L849.0,838.5 L852.0,838.4 L855.0,838.4 L858.0,838.4 L861.0,838.3 L864.0,838.3 L867.0,838.3 L870.0,838.2 L873.0,838.2 L876.0,838.2 L879.0,838.1 L882.0,838.1 L885.0,838.1 L888.0,838.0 L891.0,838.0 L893.9,838.0 L896.7,838.0 L899.5,837.9 L902.2,837.9 L903.1,837.9" fill="none" stroke="#7e151b" stroke-width="3.3" stroke-dasharray="13.4 16.7" stroke-dashoffset="4"/>
<path d="M129.7,846.6 L132.1,848.4 L134.5,850.2 L136.9,852.1 L139.2,854.0 L141.4,856.0 L143.5,858.1 L145.6,860.2 L147.6,862.4 L149.6,864.7 L151.5,867.0 L153.3,869.3 L155.2,871.7 L156.9,874.2 L158.7,876.6 L160.4,879.1 L162.1,881.6 L163.7,884.1 L165.4,886.6 L166.9,889.2 L168.5,891.7 L170.0,894.3 L171.4,897.0 L172.8,899.6 L174.2,902.3 L175.5,904.9 L176.8,907.7 L178.1,910.4 L179.4,913.1 L180.6,915.8 L181.8,918.6 L183.1,921.3 L184.3,924.1 L185.5,926.8 L186.6,929.6 L187.8,932.3 L188.9,935.1 L190.1,937.9 L191.2,940.7 L192.3,943.5 L193.3,946.3 L194.4,949.1 L195.4,951.9 L196.4,954.7 L197.5,957.5 L198.5,960.4 L199.4,963.2 L200.4,966.0 L201.4,968.9 L202.4,971.7 L203.4,974.5 L204.4,977.4 L205.4,980.2 L206.4,983.0 L207.4,985.9 L208.4,988.7 L209.3,991.5 L210.3,994.4 L211.3,997.2 L212.3,1000.0 L213.3,1002.9 L214.2,1005.7 L215.2,1008.6 L216.1,1011.4 L217.0,1014.3 L217.9,1017.1 L218.8,1020.0 L219.6,1022.9 L220.4,1025.8 L221.2,1028.7 L222.0,1031.6 L222.7,1034.5 L223.5,1037.4 L224.3,1040.3 L225.1,1043.1 L225.9,1046.0 L226.8,1048.9 L227.6,1051.8 L228.5,1054.7 L229.3,1057.5 L230.2,1060.4 L231.1,1063.3 L232.0,1066.1 L232.9,1069.0 L233.8,1071.9 L234.7,1074.7 L235.6,1077.6 L236.6,1080.4 L237.5,1083.3 L238.4,1086.1 L239.4,1089.0 L240.3,1091.8 L241.3,1094.7 L242.2,1097.5 L243.2,1100.4 L244.1,1103.2 L245.1,1106.0 L246.1,1108.9 L247.0,1111.7 L248.0,1114.6 L249.0,1117.4 L250.0,1120.2 L251.0,1123.1 L252.0,1125.9 L253.0,1128.7 L254.0,1131.5 L255.0,1134.4 L256.0,1137.2 L257.0,1140.0 L258.1,1142.8 L259.1,1145.6 L260.2,1148.4 L261.2,1151.3 L262.3,1154.1 L263.3,1156.9 L264.4,1159.7 L265.5,1162.5 L266.6,1165.3 L267.7,1168.1 L268.7,1170.9 L269.8,1173.7 L270.9,1176.5 L271.9,1179.3 L273.0,1182.1 L273.9,1184.9 L274.9,1187.8 L275.9,1190.6 L276.8,1193.5 L277.7,1196.3 L278.6,1199.2 L279.5,1202.0 L280.5,1204.9 L281.4,1207.7 L282.4,1210.6 L283.4,1213.4 L284.4,1216.2 L285.4,1219.0 L286.5,1221.8 L287.6,1224.6 L288.8,1227.4 L289.9,1230.2 L291.1,1232.9 L292.3,1235.7 L293.6,1238.4 L294.8,1241.1 L296.1,1243.8 L297.4,1246.6 L298.7,1249.3 L300.0,1251.9 L301.3,1254.6 L302.7,1257.3 L304.0,1260.0 L305.4,1262.6 L306.9,1265.3 L308.3,1267.9 L309.8,1270.5 L311.2,1273.1 L312.7,1275.7 L314.3,1278.3 L315.8,1280.9 L317.4,1283.5 L318.9,1286.0 L320.5,1288.5 L322.2,1291.1 L323.8,1293.6 L325.5,1296.0 L327.2,1298.5 L329.0,1300.9 L330.7,1303.4 L332.5,1305.8 L334.4,1308.1 L336.2,1310.5 L338.1,1312.9 L340.0,1315.2 L341.9,1317.5 L343.8,1319.8 L345.7,1322.1 L347.7,1324.4 L349.6,1326.6 L351.6,1328.9 L353.7,1331.1 L355.7,1333.3 L357.8,1335.5 L359.9,1337.6 L362.0,1339.8 L364.1,1341.9 L366.3,1343.9 L368.5,1345.9 L370.8,1347.9 L373.1,1349.8 L375.5,1351.6 L377.8,1353.4 L380.3,1355.2 L382.7,1356.9 L385.2,1358.6 L387.7,1360.3 L390.2,1361.9 L392.7,1363.6 L395.3,1365.1 L397.8,1366.7 L400.4,1368.2 L403.1,1369.6 L405.7,1371.0 L408.4,1372.3 L411.1,1373.5 L413.9,1374.7 L416.7,1375.9 L419.5,1377.0 L422.3,1378.0 L425.1,1379.1 L427.9,1380.1 L430.7,1381.2 L433.5,1382.2 L436.4,1383.2 L439.2,1384.1 L442.1,1385.1 L444.9,1386.0 L447.8,1386.9 L450.6,1387.8 L453.5,1388.6 L456.4,1389.5 L459.3,1390.3 L462.2,1391.1 L465.1,1391.9 L468.0,1392.6 L470.9,1393.4 L473.8,1394.1 L476.7,1394.8 L479.6,1395.4 L482.6,1396.1 L485.5,1396.7 L488.4,1397.3 L491.4,1397.8 L494.3,1398.4 L497.3,1398.9 L500.3,1399.4 L503.2,1399.9 L506.2,1400.4 L509.1,1400.8 L512.1,1401.3 L515.1,1401.8 L518.0,1402.3 L521.0,1402.8 L523.9,1403.3 L526.9,1403.8 L529.9,1404.2 L532.8,1404.7 L535.8,1405.2 L538.8,1405.6 L541.7,1406.0 L544.7,1406.4 L547.7,1406.8 L550.6,1407.2 L553.6,1407.6 L556.6,1408.0 L559.6,1408.3 L562.6,1408.6 L565.5,1409.0 L568.5,1409.3 L571.5,1409.5 L574.5,1409.8 L577.5,1410.1 L580.5,1410.3 L583.5,1410.6 L586.5,1410.8 L589.5,1411.0 L592.4,1411.2 L595.4,1411.5 L598.4,1411.7 L601.4,1411.8 L604.4,1412.0 L607.4,1412.2 L610.4,1412.4 L613.4,1412.6 L616.4,1412.7 L619.4,1412.9 L622.4,1413.1 L625.4,1413.2 L628.4,1413.4 L631.4,1413.5 L634.4,1413.7 L637.4,1413.8 L640.4,1414.0 L643.4,1414.1 L646.4,1414.3 L649.4,1414.4 L652.4,1414.5 L655.4,1414.7 L658.3,1414.8 L661.3,1414.9 L664.3,1415.1 L667.3,1415.2 L670.3,1415.3 L673.3,1415.4 L676.3,1415.6 L679.3,1415.7 L682.3,1415.8 L685.3,1415.9 L688.3,1416.1 L691.3,1416.2 L694.3,1416.3 L697.3,1416.4 L700.3,1416.5 L703.3,1416.7 L706.3,1416.8 L709.3,1416.9 L712.3,1417.0 L715.3,1417.1 L718.3,1417.2 L721.3,1417.3 L724.3,1417.4 L727.3,1417.5 L730.3,1417.7 L733.3,1417.8 L736.3,1417.9 L739.3,1418.0 L742.3,1418.1 L745.3,1418.2 L748.3,1418.3 L751.3,1418.4 L754.3,1418.5 L757.3,1418.6 L760.3,1418.7 L763.3,1418.8 L766.3,1418.9 L769.3,1419.0 L772.3,1419.1 L775.3,1419.2 L778.3,1419.3 L781.3,1419.4 L784.3,1419.5 L787.3,1419.5 L790.3,1419.6 L793.3,1419.7 L796.3,1419.8 L799.3,1419.9 L802.3,1420.0 L805.3,1420.1 L808.3,1420.1 L811.3,1420.2 L814.3,1420.3 L817.2,1420.4 L820.2,1420.5 L823.2,1420.6 L826.2,1420.6 L829.2,1420.7 L832.2,1420.8 L835.2,1420.9 L838.2,1420.9 L841.2,1421.0 L844.2,1421.1 L847.2,1421.2 L850.2,1421.2 L853.2,1421.3 L856.2,1421.4 L859.2,1421.5 L862.2,1421.5 L865.2,1421.6 L868.2,1421.7 L871.2,1421.7 L874.2,1421.8 L877.2,1421.9 L880.2,1421.9 L883.2,1422.0 L886.2,1422.1 L889.2,1422.1 L892.2,1422.2 L895.2,1422.2 L898.2,1422.3 L901.1,1422.4 L903.1,1422.4" fill="none" stroke="#cd1c24" stroke-width="3.3"/>
<path d="M129.7,1415.1 L132.1,1413.3 L134.5,1411.5 L136.9,1409.6 L139.2,1407.7 L141.4,1405.7 L143.5,1403.6 L145.6,1401.5 L147.6,1399.3 L149.6,1397.0 L151.5,1394.7 L153.3,1392.4 L155.2,1390.0 L156.9,1387.5 L158.7,1385.1 L160.4,1382.6 L162.1,1380.1 L163.7,1377.6 L165.4,1375.1 L166.9,1372.5 L168.5,1370.0 L170.0,1367.4 L171.4,1364.7 L172.8,1362.1 L174.2,1359.4 L175.5,1356.8 L176.8,1354.0 L178.1,1351.3 L179.4,1348.6 L180.6,1345.9 L181.8,1343.1 L183.1,1340.4 L184.3,1337.6 L185.5,1334.9 L186.6,1332.1 L187.8,1329.4 L188.9,1326.6 L190.1,1323.8 L191.2,1321.0 L192.3,1318.2 L193.3,1315.4 L194.4,1312.6 L195.4,1309.8 L196.4,1307.0 L197.5,1304.2 L198.5,1301.3 L199.4,1298.5 L200.4,1295.7 L201.4,1292.8 L202.4,1290.0 L203.4,1287.2 L204.4,1284.3 L205.4,1281.5 L206.4,1278.7 L207.4,1275.8 L208.4,1273.0 L209.3,1270.2 L210.3,1267.3 L211.3,1264.5 L212.3,1261.7 L213.3,1258.8 L214.2,1256.0 L215.2,1253.1 L216.1,1250.3 L217.0,1247.4 L217.9,1244.6 L218.8,1241.7 L219.6,1238.8 L220.4,1235.9 L221.2,1233.0 L222.0,1230.1 L222.7,1227.2 L223.5,1224.3 L224.3,1221.4 L225.1,1218.6 L225.9,1215.7 L226.8,1212.8 L227.6,1209.9 L228.5,1207.0 L229.3,1204.2 L230.2,1201.3 L231.1,1198.4 L232.0,1195.6 L232.9,1192.7 L233.8,1189.8 L234.7,1187.0 L235.6,1184.1 L236.6,1181.3 L237.5,1178.4 L238.4,1175.6 L239.4,1172.7 L240.3,1169.9 L241.3,1167.0 L242.2,1164.2 L243.2,1161.3 L244.1,1158.5 L245.1,1155.7 L246.1,1152.8 L247.0,1150.0 L248.0,1147.1 L249.0,1144.3 L250.0,1141.5 L251.0,1138.6 L252.0,1135.8 L253.0,1133.0 L254.0,1130.2 L255.0,1127.3 L256.0,1124.5 L257.0,1121.7 L258.1,1118.9 L259.1,1116.1 L260.2,1113.3 L261.2,1110.4 L262.3,1107.6 L263.3,1104.8 L264.4,1102.0 L265.5,1099.2 L266.6,1096.4 L267.7,1093.6 L268.7,1090.8 L269.8,1088.0 L270.9,1085.2 L271.9,1082.4 L273.0,1079.6 L273.9,1076.8 L274.9,1073.9 L275.9,1071.1 L276.8,1068.2 L277.7,1065.4 L278.6,1062.5 L279.5,1059.7 L280.5,1056.8 L281.4,1054.0 L282.4,1051.1 L283.4,1048.3 L284.4,1045.5 L285.4,1042.7 L286.5,1039.9 L287.6,1037.1 L288.8,1034.3 L289.9,1031.5 L291.1,1028.8 L292.3,1026.0 L293.6,1023.3 L294.8,1020.6 L296.1,1017.9 L297.4,1015.1 L298.7,1012.4 L300.0,1009.8 L301.3,1007.1 L302.7,1004.4 L304.0,1001.7 L305.4,999.1 L306.9,996.4 L308.3,993.8 L309.8,991.2 L311.2,988.6 L312.7,986.0 L314.3,983.4 L315.8,980.8 L317.4,978.2 L318.9,975.7 L320.5,973.2 L322.2,970.6 L323.8,968.1 L325.5,965.7 L327.2,963.2 L329.0,960.8 L330.7,958.3 L332.5,955.9 L334.4,953.6 L336.2,951.2 L338.1,948.8 L340.0,946.5 L341.9,944.2 L343.8,941.9 L345.7,939.6 L347.7,937.3 L349.6,935.1 L351.6,932.8 L353.7,930.6 L355.7,928.4 L357.8,926.2 L359.9,924.1 L362.0,921.9 L364.1,919.8 L366.3,917.8 L368.5,915.8 L370.8,913.8 L373.1,911.9 L375.5,910.1 L377.8,908.3 L380.3,906.5 L382.7,904.8 L385.2,903.1 L387.7,901.4 L390.2,899.8 L392.7,898.1 L395.3,896.6 L397.8,895.0 L400.4,893.5 L403.1,892.1 L405.7,890.7 L408.4,889.4 L411.1,888.2 L413.9,887.0 L416.7,885.8 L419.5,884.7 L422.3,883.7 L425.1,882.6 L427.9,881.6 L430.7,880.5 L433.5,879.5 L436.4,878.5 L439.2,877.6 L442.1,876.6 L444.9,875.7 L447.8,874.8 L450.6,873.9 L453.5,873.1 L456.4,872.2 L459.3,871.4 L462.2,870.6 L465.1,869.8 L468.0,869.1 L470.9,868.3 L473.8,867.6 L476.7,866.9 L479.6,866.3 L482.6,865.6 L485.5,865.0 L488.4,864.4 L491.4,863.9 L494.3,863.3 L497.3,862.8 L500.3,862.3 L503.2,861.8 L506.2,861.3 L509.1,860.9 L512.1,860.4 L515.1,859.9 L518.0,859.4 L521.0,858.9 L523.9,858.4 L526.9,857.9 L529.9,857.5 L532.8,857.0 L535.8,856.5 L538.8,856.1 L541.7,855.7 L544.7,855.3 L547.7,854.9 L550.6,854.5 L553.6,854.1 L556.6,853.7 L559.6,853.4 L562.6,853.1 L565.5,852.7 L568.5,852.4 L571.5,852.2 L574.5,851.9 L577.5,851.6 L580.5,851.4 L583.5,851.1 L586.5,850.9 L589.5,850.7 L592.4,850.5 L595.4,850.2 L598.4,850.0 L601.4,849.9 L604.4,849.7 L607.4,849.5 L610.4,849.3 L613.4,849.1 L616.4,849.0 L619.4,848.8 L622.4,848.6 L625.4,848.5 L628.4,848.3 L631.4,848.2 L634.4,848.0 L637.4,847.9 L640.4,847.7 L643.4,847.6 L646.4,847.4 L649.4,847.3 L652.4,847.2 L655.4,847.0 L658.3,846.9 L661.3,846.8 L664.3,846.6 L667.3,846.5 L670.3,846.4 L673.3,846.3 L676.3,846.1 L679.3,846.0 L682.3,845.9 L685.3,845.8 L688.3,845.6 L691.3,845.5 L694.3,845.4 L697.3,845.3 L700.3,845.2 L703.3,845.0 L706.3,844.9 L709.3,844.8 L712.3,844.7 L715.3,844.6 L718.3,844.5 L721.3,844.4 L724.3,844.3 L727.3,844.2 L730.3,844.0 L733.3,843.9 L736.3,843.8 L739.3,843.7 L742.3,843.6 L745.3,843.5 L748.3,843.4 L751.3,843.3 L754.3,843.2 L757.3,843.1 L760.3,843.0 L763.3,842.9 L766.3,842.8 L769.3,842.7 L772.3,842.6 L775.3,842.5 L778.3,842.4 L781.3,842.3 L784.3,842.2 L787.3,842.2 L790.3,842.1 L793.3,842.0 L796.3,841.9 L799.3,841.8 L802.3,841.7 L805.3,841.6 L808.3,841.6 L811.3,841.5 L814.3,841.4 L817.2,841.3 L820.2,841.2 L823.2,841.1 L826.2,841.1 L829.2,841.0 L832.2,840.9 L835.2,840.8 L838.2,840.8 L841.2,840.7 L844.2,840.6 L847.2,840.5 L850.2,840.5 L853.2,840.4 L856.2,840.3 L859.2,840.2 L862.2,840.2 L865.2,840.1 L868.2,840.0 L871.2,840.0 L874.2,839.9 L877.2,839.8 L880.2,839.8 L883.2,839.7 L886.2,839.6 L889.2,839.6 L892.2,839.5 L895.2,839.5 L898.2,839.4 L901.1,839.3 L903.1,839.3" fill="none" stroke="#cd1c24" stroke-width="3.3"/>
<path d="M890.8,819.2 H903.1 M890.8,1442.5 H903.1 M903.1,817.97 V1455.3" stroke="#231f20" stroke-width="2.47" fill="none"/>
<g font-size="35.52">
<text x="109.0" y="1453.5" text-anchor="end">0.0</text>
<text x="915.9" y="1453.5">0.0</text>
<text x="109.0" y="1391.2" text-anchor="end">0.1</text>
<text x="915.9" y="1391.2">0.1</text>
<text x="109.0" y="1328.9" text-anchor="end">0.2</text>
<text x="915.9" y="1328.9">0.2</text>
<text x="109.0" y="1266.6" text-anchor="end">0.3</text>
<text x="915.9" y="1266.6">0.3</text>
<text x="109.0" y="1204.2" text-anchor="end">0.4</text>
<text x="915.9" y="1204.2">0.4</text>
<text x="109.0" y="1141.9" text-anchor="end">0.5</text>
<text x="915.9" y="1141.9">0.5</text>
<text x="109.0" y="1079.6" text-anchor="end">0.6</text>
<text x="915.9" y="1079.6">0.6</text>
<text x="109.0" y="1017.2" text-anchor="end">0.7</text>
<text x="915.9" y="1017.2">0.7</text>
<text x="109.0" y="954.9" text-anchor="end">0.8</text>
<text x="915.9" y="954.9">0.8</text>
<text x="109.0" y="892.6" text-anchor="end">0.9</text>
<text x="915.9" y="892.6">0.9</text>
<text x="109.0" y="830.2" text-anchor="end">1.0</text>
<text x="915.9" y="830.2">1.0</text>
<text x="129.7" y="1491.8" text-anchor="middle">0.03</text>
<text x="240.2" y="1491.8" text-anchor="middle">0.04</text>
<text x="350.7" y="1491.8" text-anchor="middle">0.05</text>
<text x="461.2" y="1491.8" text-anchor="middle">0.06</text>
<text x="571.6" y="1491.8" text-anchor="middle">0.07</text>
<text x="682.1" y="1491.8" text-anchor="middle">0.08</text>
<text x="792.6" y="1491.8" text-anchor="middle">0.09</text>
<text x="903.1" y="1491.8" text-anchor="middle">0.10</text>
</g>
<ellipse cx="415.3" cy="55.4" rx="16.5" ry="50.2" fill="none" stroke="#231f20" stroke-width="1.7"/>
<path d="M436.2,79.3 H464.3" stroke="#231f20" stroke-width="1.7" fill="none"/><path d="M479.3,79.3 L462.3,74.6 L462.3,84.0 Z" fill="#231f20"/>
<ellipse cx="297.9" cy="612" rx="15.1" ry="49.6" fill="none" stroke="#231f20" stroke-width="1.7"/>
<path d="M302.8,561.9 H264.3" stroke="#231f20" stroke-width="1.7" fill="none"/><path d="M249.3,561.9 L266.3,557.1999999999999 L266.3,566.6 Z" fill="#231f20"/>
<ellipse cx="460.2" cy="880.9" rx="19.9" ry="60.4" fill="none" stroke="#231f20" stroke-width="1.7"/>
<path d="M457.4,942.5 H479" stroke="#231f20" stroke-width="1.7" fill="none"/><path d="M494,942.5 L477,937.8 L477,947.2 Z" fill="#231f20"/>
<ellipse cx="461.7" cy="1385.9" rx="20" ry="50.9" fill="none" stroke="#231f20" stroke-width="1.7"/>
<path d="M462.1,1336 H441.9" stroke="#231f20" stroke-width="1.7" fill="none"/><path d="M426.9,1336 L443.9,1331.3 L443.9,1340.7 Z" fill="#231f20"/>
<path d="M611.0,321.3 H684.8" fill="none" stroke="#0f6636" stroke-width="3.3" stroke-dasharray="4.8 8.9"/>
<path d="M611.0,366.2 H684.8" fill="none" stroke="#3053a8" stroke-width="3.3" stroke-dasharray="16 9.7 2.4 9.7"/>
<path d="M611.0,411.1 H684.8" fill="none" stroke="#7e151b" stroke-width="3.3" stroke-dasharray="13.4 16.7"/>
<path d="M611.0,455.9 H684.8" fill="none" stroke="#cd1c24" stroke-width="3.3"/>
<g font-size="32.00">
<text x="693.8" y="332.2">5 cm<tspan dx="1.6" dy="-11.7" font-size="21.5">-1</tspan></text>
<text x="693.8" y="377.1">10 cm<tspan dx="1.6" dy="-11.7" font-size="21.5">-1</tspan></text>
<text x="693.8" y="422.0">20 cm<tspan dx="1.6" dy="-11.7" font-size="21.5">-1</tspan></text>
<text x="693.8" y="466.8">30 cm<tspan dx="1.6" dy="-11.7" font-size="21.5">-1</tspan></text>
<text x="612.3" y="287.7">total loss</text>
<text class="ser" transform="translate(750.0,287.7) scale(1.2,1.05)" font-size="32.00">α</text>
<text x="770.2" y="287.7">=</text>
</g>
<text x="613.8" y="229.1" font-size="36.00">T=300 K</text>
<path d="M665.9,1138.3 H738.7" fill="none" stroke="#0f6636" stroke-width="3.3" stroke-dasharray="4.8 8.9"/>
<path d="M665.9,1182.5 H738.7" fill="none" stroke="#3053a8" stroke-width="3.3" stroke-dasharray="16 9.7 2.4 9.7"/>
<path d="M665.9,1226.6 H738.7" fill="none" stroke="#7e151b" stroke-width="3.3" stroke-dasharray="13.4 16.7"/>
<path d="M665.9,1270.5 H738.7" fill="none" stroke="#cd1c24" stroke-width="3.3"/>
<g font-size="31.57">
<text x="747.0" y="1149.1">5 cm<tspan dx="1.6" dy="-11.5" font-size="21.2">-1</tspan></text>
<text x="747.0" y="1193.3">10 cm<tspan dx="1.6" dy="-11.5" font-size="21.2">-1</tspan></text>
<text x="747.0" y="1237.4">20 cm<tspan dx="1.6" dy="-11.5" font-size="21.2">-1</tspan></text>
<text x="747.0" y="1281.3">30 cm<tspan dx="1.6" dy="-11.5" font-size="21.2">-1</tspan></text>
<text x="665.8" y="1104.8">total loss</text>
<text class="ser" transform="translate(801.7,1104.8) scale(1.2,1.05)" font-size="31.57">α</text>
<text x="821.6" y="1104.8">=</text>
</g>
<text x="665.6" y="1056.8" font-size="35.52">T=350 K</text>
<text font-size="36" x="843.8" y="72.5">(a)</text>
<text font-size="35.52" x="838" y="887.8">(b)</text>
<g font-size="36.00"><text x="265.3" y="739.8">active layer thickness</text><text class="ser it" transform="translate(617.4,739.8) scale(1.12,1)">d</text><text class="ser it" x="635.9" y="749.2" font-size="28.0">a</text><text class="ser" x="651.7" y="739.8">,</text><text class="ser" x="670.0" y="739.8" font-size="40.0">μ</text><text x="690.7" y="739.8">m</text></g>
<g font-size="35.52"><text x="268.3" y="1534.3">active layer thickness</text><text class="ser it" transform="translate(615.7,1534.3) scale(1.12,1)">d</text><text class="ser it" x="633.9" y="1543.6" font-size="27.6">a</text><text class="ser" x="649.5" y="1534.3">,</text><text class="ser" x="667.6" y="1534.3" font-size="39.5">μ</text><text x="688.0" y="1534.3">m</text></g>
<g transform="translate(32.9,619.1) rotate(-90)" font-size="36.00"><text x="0" y="0">relative leakage current density</text><text class="it" x="509.3" y="0">j</text><text font-size="24.0" x="517.8" y="9.6">e</text><text font-size="24.0" x="517.5" y="-15.1">(<tspan class="it" x="526.6">p</tspan><tspan x="540.8">)</tspan></text><text x="547.6" y="0">/<tspan class="it" x="557.9">j</tspan></text></g>
<g transform="translate(39.0,1415.2) rotate(-90)" font-size="35.52"><text x="0" y="0">relative leakage current density</text><text class="it" x="502.5" y="0">j</text><text font-size="23.7" x="510.9" y="9.5">e</text><text font-size="23.7" x="510.6" y="-14.9">(<tspan class="it" x="519.5">p</tspan><tspan x="533.6">)</tspan></text><text x="540.3" y="0">/<tspan class="it" x="550.4">j</tspan></text></g>
<g transform="translate(1015.2,495.9) rotate(-90)" font-size="36.00"><text x="0" y="0">injection efficiency</text><text class="ser it" transform="translate(306.1,0) scale(1.2,1)">η</text><text class="it" font-size="24.0" x="325.4" y="9.3">i</text></g>
<g transform="translate(1015.8,1293.8) rotate(-90)" font-size="35.52"><text x="0" y="0">injection efficiency</text><text class="ser it" transform="translate(302.0,0) scale(1.2,1)">η</text><text class="it" font-size="23.7" x="321.0" y="9.2">i</text></g>
</svg></body></html>
